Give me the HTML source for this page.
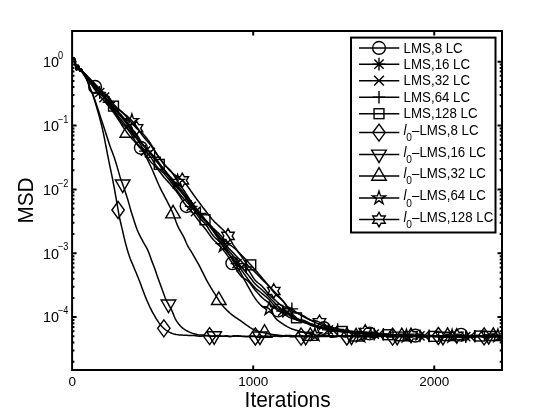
<!DOCTYPE html><html><head><meta charset="utf-8"><style>html,body{margin:0;padding:0;background:#fff;}svg{display:block;}text{font-family:"Liberation Sans",Arial,sans-serif;fill:#000;}</style></head><body>
<svg width="554" height="417" viewBox="0 0 554 417">
<rect width="554" height="417" fill="#fff"/>
<defs><clipPath id="c"><rect x="72.1" y="31" width="429.9" height="339"/></clipPath></defs>
<g clip-path="url(#c)" fill="none" stroke="#000" stroke-width="1.5" stroke-linejoin="round">
<polyline points="72.15,61 72.4,60.31 72.65,59.62 72.9,59.06 73.15,58.7 73.4,58.34 73.65,58.23 73.9,58.28 74.15,58.33 74.4,58.74 74.65,59.69 74.9,60.91 75.15,62.52 75.4,64.38 75.65,66.23 75.9,67.78 76.15,69.1 76.4,69.5 76.65,69.66 76.9,68.95 77.15,68.24 77.4,67.53 77.65,66.82 77.9,66.47 78.15,66.63 78.4,66.8 78.65,67.55 78.9,68.3 79.15,69.05 79.4,69.8 79.65,70.43 79.9,70.57 80.15,70.71 80.4,70.71 80.65,70.5 80.9,70.29 81.15,70.33 81.4,70.54 81.65,70.76 81.9,71.2 82.15,71.56 83.15,72.65 84.15,73.73 85.15,74.9 86.15,76.08 87.15,77.32 88.15,78.55 89.15,79.82 90.15,81.07 91.15,82.31 92.15,83.54 93.15,84.75 94.15,85.92 95.15,87 96.15,88.06 97.15,89.11 98.15,90.16 99.15,91.26 100.15,92.41 101.15,93.67 102.15,95.06 103.15,96.55 104.15,98.1 105.15,99.67 106.15,101.22 107.15,102.71 108.15,104.11 109.15,105.41 110.15,106.63 111.15,107.8 112.15,108.97 113.15,110.15 114.15,111.39 115.15,112.72 116.15,114.15 117.15,115.66 118.15,117.22 119.15,118.79 120.15,120.33 121.15,121.8 122.15,123.17 123.15,124.41 124.15,125.53 125.15,126.59 126.15,127.65 127.15,128.74 128.15,129.91 129.15,131.21 130.15,132.66 131.15,134.22 132.15,135.83 133.15,137.46 134.15,139.07 135.15,140.62 136.15,142.07 137.15,143.4 138.15,144.65 139.15,145.85 140.15,147.02 141.15,148.2 142.15,149.43 143.15,150.75 144.15,152.17 145.15,153.66 146.15,155.2 147.15,156.73 148.15,158.22 149.15,159.64 150.15,160.96 151.15,162.15 152.15,163.25 153.15,164.3 154.15,165.32 155.15,166.34 156.15,167.4 157.15,168.54 158.15,169.75 159.15,171.02 160.15,172.32 161.15,173.64 162.15,174.94 163.15,176.2 164.15,177.42 165.15,178.58 166.15,179.7 167.15,180.79 168.15,181.88 169.15,182.97 170.15,184.09 171.15,185.23 172.15,186.4 173.15,187.55 174.15,188.73 175.15,189.92 176.15,191.15 177.15,192.43 178.15,193.77 179.15,195.21 180.15,196.75 181.15,198.34 182.15,199.93 183.15,201.49 184.15,202.97 185.15,204.33 186.15,205.55 187.15,206.68 188.15,207.74 189.15,208.77 190.15,209.81 191.15,210.91 192.15,212.08 193.15,213.33 194.15,214.64 195.15,215.98 196.15,217.34 197.15,218.7 198.15,220.04 199.15,221.34 200.15,222.6 201.15,223.85 202.15,225.08 203.15,226.31 204.15,227.55 205.15,228.8 206.15,230.08 207.15,231.42 208.15,232.8 209.15,234.19 210.15,235.58 211.15,236.93 212.15,238.21 213.15,239.4 214.15,240.48 215.15,241.45 216.15,242.37 217.15,243.26 218.15,244.18 219.15,245.16 220.15,246.23 221.15,247.38 222.15,248.58 223.15,249.82 224.15,251.1 225.15,252.42 226.15,253.78 227.15,255.17 228.15,256.63 229.15,258.16 230.15,259.73 231.15,261.32 232.15,262.91 233.15,264.48 234.15,266.02 235.15,267.57 236.15,269.16 237.15,270.74 238.15,272.29 239.15,273.75 240.15,275.08 241.15,276.25 242.15,277.19 243.15,277.92 244.15,278.52 245.15,279.07 246.15,279.65 247.15,280.36 248.15,281.24 249.15,282.32 250.15,283.54 251.15,284.82 252.15,286.17 253.15,287.51 254.15,288.79 255.15,290.02 256.15,291.17 257.15,292.33 258.15,293.47 259.15,294.56 260.15,295.63 261.15,296.64 262.15,297.6 263.15,298.48 264.15,299.31 265.15,300.1 266.15,300.88 267.15,301.66 268.15,302.46 269.15,303.31 270.15,304.18 271.15,305.06 272.15,305.96 273.15,306.81 274.15,307.65 275.15,308.45 276.15,309.19 277.15,309.91 278.15,310.52 279.15,311.12 280.15,311.72 281.15,312.26 282.15,312.84 283.15,313.47 284.15,314.1 285.15,314.77 286.15,315.46 287.15,316.09 288.15,316.69 289.15,317.24 290.15,317.69 291.15,318.07 292.15,318.41 293.15,318.71 294.15,318.99 295.15,319.29 296.15,319.6 297.15,319.94 298.15,320.31 299.15,320.7 300.15,321.1 301.15,321.48 302.15,321.86 303.15,322.21 304.15,322.54 305.15,322.83 306.15,323.1 307.15,323.38 308.15,323.64 309.15,323.92 310.15,324.23 311.15,324.56 312.15,324.9 313.15,325.25 314.15,325.6 315.15,325.95 316.15,326.25 317.15,326.54 318.15,326.82 319.15,327.09 320.15,327.32 321.15,327.55 322.15,327.76 323.15,327.97 324.15,328.15 325.15,328.32 326.15,328.51 327.15,328.69 328.15,328.86 329.15,329.01 330.15,329.16 331.15,329.31 332.15,329.46 333.15,329.59 334.15,329.71 335.15,329.84 336.15,329.96 337.15,330.08 338.15,330.19 339.15,330.3 340.15,330.41 341.15,330.53 342.15,330.64 343.15,330.74 344.15,330.85 345.15,330.96 346.15,331.06 347.15,331.18 348.15,331.29 349.15,331.4 350.15,331.52 351.15,331.64 352.15,331.76 353.15,331.88 354.15,331.99 355.15,332.11 356.15,332.23 357.15,332.35 358.15,332.46 359.15,332.58 360.15,332.68 361.15,332.78 362.15,332.87 363.15,332.97 364.15,333.07 365.15,333.16 366.15,333.24 367.15,333.32 368.15,333.4 369.15,333.48 370.15,333.56 371.15,333.64 372.15,333.72 373.15,333.8 374.15,333.87 375.15,333.94 376.15,334.01 377.15,334.08 378.15,334.15 379.15,334.21 380.15,334.25 381.15,334.31 382.15,334.38 383.15,334.46 384.15,334.53 385.15,334.59 386.15,334.66 387.15,334.72 388.15,334.76 389.15,334.79 390.15,334.77 391.15,334.76 392.15,334.85 393.15,334.94 394.15,335.02 395.15,335.07 396.15,335.11 397.15,335.17 398.15,335.22 399.15,335.22 400.15,335.16 401.15,334.96 402.15,334.88 403.15,334.94 404.15,335.22 405.15,335.47 406.15,335.52 407.15,335.54 408.15,335.36 409.15,335.17 410.15,335.08 411.15,335.07 412.15,335.13 413.15,335.25 414.15,335.38 415.15,335.6 416.15,335.77 417.15,335.87 418.15,335.94 419.15,335.95 420.15,335.91 421.15,335.82 422.15,335.84 423.15,335.89 424.15,336.04 425.15,336.14 426.15,336.13 427.15,336.1 428.15,336.06 429.15,336.03 430.15,336.03 431.15,336.06 432.15,336.09 433.15,336.25 434.15,336.37 435.15,336.35 436.15,336.3 437.15,336.17 438.15,336.2 439.15,336.34 440.15,336.73 441.15,337.23 442.15,337.29 443.15,337.26 444.15,336.83 445.15,336.5 446.15,336.3 447.15,336.25 448.15,336.28 449.15,335.97 450.15,335.59 451.15,335.51 452.15,335.53 453.15,335.95 454.15,336.29 455.15,336.51 456.15,336.57 457.15,336.52 458.15,335.99 459.15,335.34 460.15,334.97 461.15,334.79 462.15,335.39 463.15,336 464.15,336.61 465.15,336.99 466.15,337.22 467.15,337.17 468.15,337.04 469.15,336.87 470.15,336.72 471.15,336.63 472.15,336.51 473.15,336.35 474.15,336.16 475.15,335.95 476.15,335.85 477.15,335.77 478.15,335.91 479.15,336.01 480.15,335.95 481.15,335.95 482.15,336.02 483.15,336.29 484.15,336.69 485.15,336.73 486.15,336.68 487.15,336.59 488.15,336.57 489.15,336.78 490.15,336.86 491.15,336.76 492.15,336.75 493.15,336.8 494.15,336.91 495.15,337.04 496.15,336.85 497.15,336.71 498.15,336.83 499.15,337.02 500.15,337.34 501.15,337.45 502,337.43"/>
<polyline points="72.15,61 72.4,60.31 72.65,59.62 72.9,59.06 73.15,58.7 73.4,58.34 73.65,58.2 73.9,58.2 74.15,58.2 74.4,58.56 74.65,59.46 74.9,60.63 75.15,62.19 75.4,64 75.65,65.8 75.9,67.3 76.15,68.57 76.4,68.92 76.65,69.06 76.9,68.35 77.15,67.64 77.4,66.93 77.65,66.22 77.9,65.87 78.15,66.03 78.4,66.2 78.65,66.95 78.9,67.7 79.15,68.45 79.4,69.2 79.65,69.83 79.9,69.97 80.15,70.11 80.4,70.11 80.65,69.9 80.9,69.69 81.15,69.73 81.4,69.94 81.65,70.16 81.9,70.6 82.15,70.98 83.15,72.16 84.15,73.34 85.15,74.49 86.15,75.66 87.15,76.89 88.15,78.2 89.15,79.63 90.15,81.17 91.15,82.8 92.15,84.47 93.15,86.1 94.15,87.57 95.15,88.67 96.15,89.61 97.15,90.45 98.15,91.24 99.15,92.03 100.15,92.88 101.15,93.84 102.15,94.87 103.15,95.92 104.15,97 105.15,98.13 106.15,99.29 107.15,100.52 108.15,101.81 109.15,103.19 110.15,104.67 111.15,106.2 112.15,107.76 113.15,109.29 114.15,110.78 115.15,112.18 116.15,113.49 117.15,114.75 118.15,115.97 119.15,117.17 120.15,118.37 121.15,119.6 122.15,120.86 123.15,122.17 124.15,123.52 125.15,124.88 126.15,126.25 127.15,127.59 128.15,128.89 129.15,130.14 130.15,131.3 131.15,132.39 132.15,133.44 133.15,134.5 134.15,135.59 135.15,136.75 136.15,138.02 137.15,139.41 138.15,140.92 139.15,142.48 140.15,144.06 141.15,145.61 142.15,147.09 143.15,148.46 144.15,149.69 145.15,150.82 146.15,151.89 147.15,152.94 148.15,154.03 149.15,155.18 150.15,156.46 151.15,157.88 152.15,159.41 153.15,161 154.15,162.61 155.15,164.16 156.15,165.62 157.15,166.93 158.15,168.07 159.15,169.09 160.15,170.03 161.15,170.93 162.15,171.84 163.15,172.8 164.15,173.85 165.15,174.97 166.15,176.12 167.15,177.3 168.15,178.51 169.15,179.75 170.15,181.02 171.15,182.31 172.15,183.66 173.15,185.07 174.15,186.5 175.15,187.95 176.15,189.37 177.15,190.75 178.15,192.07 179.15,193.33 180.15,194.55 181.15,195.74 182.15,196.9 183.15,198.04 184.15,199.16 185.15,200.26 186.15,201.31 187.15,202.29 188.15,203.25 189.15,204.22 190.15,205.23 191.15,206.32 192.15,207.52 193.15,208.86 194.15,210.32 195.15,211.85 196.15,213.4 197.15,214.92 198.15,216.35 199.15,217.66 200.15,218.82 201.15,219.85 202.15,220.83 203.15,221.78 204.15,222.78 205.15,223.86 206.15,225.08 207.15,226.46 208.15,227.98 209.15,229.56 210.15,231.17 211.15,232.73 212.15,234.2 213.15,235.51 214.15,236.66 215.15,237.68 216.15,238.62 217.15,239.53 218.15,240.47 219.15,241.48 220.15,242.61 221.15,243.88 222.15,245.25 223.15,246.68 224.15,248.12 225.15,249.54 226.15,250.91 227.15,252.18 228.15,253.34 229.15,254.43 230.15,255.47 231.15,256.49 232.15,257.54 233.15,258.65 234.15,259.85 235.15,261.13 236.15,262.48 237.15,263.88 238.15,265.31 239.15,266.75 240.15,268.19 241.15,269.59 242.15,271 243.15,272.42 244.15,273.85 245.15,275.28 246.15,276.68 247.15,278.06 248.15,279.39 249.15,280.7 250.15,281.99 251.15,283.22 252.15,284.42 253.15,285.59 254.15,286.67 255.15,287.71 256.15,288.7 257.15,289.57 258.15,290.38 259.15,291.19 260.15,291.99 261.15,292.76 262.15,293.58 263.15,294.42 264.15,295.25 265.15,296.06 266.15,296.9 267.15,297.78 268.15,298.7 269.15,299.66 270.15,300.74 271.15,301.92 272.15,303.14 273.15,304.34 274.15,305.5 275.15,306.57 276.15,307.47 277.15,308.2 278.15,308.83 279.15,309.39 280.15,309.86 281.15,310.32 282.15,310.83 283.15,311.41 284.15,311.98 285.15,312.57 286.15,313.22 287.15,313.86 288.15,314.48 289.15,315.13 290.15,315.8 291.15,316.47 292.15,317.16 293.15,317.87 294.15,318.55 295.15,319.14 296.15,319.67 297.15,320.12 298.15,320.46 299.15,320.73 300.15,320.97 301.15,321.23 302.15,321.51 303.15,321.85 304.15,322.25 305.15,322.71 306.15,323.2 307.15,323.69 308.15,324.18 309.15,324.64 310.15,325.05 311.15,325.43 312.15,325.79 313.15,326.12 314.15,326.42 315.15,326.72 316.15,327.02 317.15,327.28 318.15,327.54 319.15,327.8 320.15,328.06 321.15,328.3 322.15,328.54 323.15,328.78 324.15,329.03 325.15,329.24 326.15,329.45 327.15,329.65 328.15,329.86 329.15,330.05 330.15,330.22 331.15,330.38 332.15,330.55 333.15,330.71 334.15,330.85 335.15,330.98 336.15,331.11 337.15,331.24 338.15,331.37 339.15,331.48 340.15,331.59 341.15,331.69 342.15,331.8 343.15,331.9 344.15,331.99 345.15,332.08 346.15,332.17 347.15,332.26 348.15,332.35 349.15,332.43 350.15,332.51 351.15,332.59 352.15,332.65 353.15,332.72 354.15,332.82 355.15,332.9 356.15,332.99 357.15,333.07 358.15,333.14 359.15,333.22 360.15,333.29 361.15,333.37 362.15,333.45 363.15,333.53 364.15,333.61 365.15,333.68 366.15,333.74 367.15,333.78 368.15,333.81 369.15,333.84 370.15,333.94 371.15,334.02 372.15,334.07 373.15,334.13 374.15,334.19 375.15,334.28 376.15,334.38 377.15,334.45 378.15,334.52 379.15,334.56 380.15,334.6 381.15,334.65 382.15,334.7 383.15,334.76 384.15,334.8 385.15,334.83 386.15,334.87 387.15,334.9 388.15,335 389.15,335.08 390.15,335.14 391.15,335.2 392.15,335.24 393.15,335.27 394.15,335.28 395.15,335.25 396.15,335.18 397.15,335.19 398.15,335.23 399.15,335.38 400.15,335.52 401.15,335.64 402.15,335.73 403.15,335.8 404.15,335.87 405.15,335.93 406.15,335.94 407.15,335.93 408.15,335.78 409.15,335.57 410.15,335.45 411.15,335.48 412.15,335.62 413.15,335.67 414.15,335.69 415.15,335.59 416.15,335.51 417.15,335.51 418.15,335.59 419.15,335.75 420.15,335.86 421.15,335.93 422.15,335.95 423.15,335.96 424.15,335.89 425.15,335.78 426.15,335.43 427.15,335.11 428.15,334.89 429.15,334.96 430.15,335.23 431.15,335.41 432.15,335.56 433.15,335.72 434.15,335.89 435.15,336.1 436.15,336.28 437.15,336.4 438.15,336.53 439.15,336.65 440.15,336.83 441.15,336.94 442.15,336.87 443.15,336.83 444.15,336.89 445.15,336.84 446.15,336.61 447.15,336.39 448.15,336.19 449.15,336.33 450.15,336.56 451.15,336.46 452.15,336.34 453.15,336.12 454.15,336.09 455.15,336.35 456.15,336.62 457.15,336.89 458.15,337.07 459.15,337.21 460.15,337.14 461.15,336.99 462.15,336.53 463.15,336.2 464.15,336.05 465.15,336.36 466.15,336.98 467.15,337.35 468.15,337.66 469.15,337.39 470.15,337.16 471.15,337.08 472.15,336.98 473.15,336.86 474.15,336.65 475.15,336.4 476.15,336.39 477.15,336.44 478.15,336.33 479.15,336.2 480.15,336.01 481.15,335.99 482.15,336.23 483.15,336.55 484.15,336.92 485.15,337.21 486.15,337.48 487.15,337.1 488.15,336.62 489.15,335.76 490.15,335.17 491.15,334.98 492.15,335.17 493.15,335.63 494.15,335.82 495.15,335.94 496.15,335.65 497.15,335.4 498.15,335.33 499.15,335.35 500.15,335.49 501.15,335.49 502,335.42"/>
<polyline points="72.15,61 72.4,60.31 72.65,59.62 72.9,59.06 73.15,58.7 73.4,58.34 73.65,58.19 73.9,58.16 74.15,58.14 74.4,58.47 74.65,59.35 74.9,60.49 75.15,62.02 75.4,63.81 75.65,65.59 75.9,67.06 76.15,68.31 76.4,68.63 76.65,68.76 76.9,68.05 77.15,67.34 77.4,66.63 77.65,65.92 77.9,65.57 78.15,65.73 78.4,65.9 78.65,66.65 78.9,67.4 79.15,68.15 79.4,68.9 79.65,69.53 79.9,69.67 80.15,69.81 80.4,69.81 80.65,69.6 80.9,69.39 81.15,69.43 81.4,69.64 81.65,69.86 81.9,70.3 82.15,70.97 83.15,72.11 84.15,73.26 85.15,74.5 86.15,75.75 87.15,76.99 88.15,78.24 89.15,79.47 90.15,80.68 91.15,81.89 92.15,83.09 93.15,84.31 94.15,85.55 95.15,86.8 96.15,88.1 97.15,89.44 98.15,90.76 99.15,92.05 100.15,93.29 101.15,94.43 102.15,95.46 103.15,96.39 104.15,97.26 105.15,98.12 106.15,99.01 107.15,99.97 108.15,101.01 109.15,102.16 110.15,103.38 111.15,104.64 112.15,105.94 113.15,107.24 114.15,108.52 115.15,109.76 116.15,110.96 117.15,112.15 118.15,113.33 119.15,114.51 120.15,115.69 121.15,116.89 122.15,118.1 123.15,119.31 124.15,120.51 125.15,121.72 126.15,122.95 127.15,124.21 128.15,125.51 129.15,126.87 130.15,128.32 131.15,129.84 132.15,131.42 133.15,132.99 134.15,134.53 135.15,136 136.15,137.37 137.15,138.63 138.15,139.81 139.15,140.93 140.15,142.02 141.15,143.08 142.15,144.16 143.15,145.24 144.15,146.33 145.15,147.39 146.15,148.44 147.15,149.5 148.15,150.58 149.15,151.68 150.15,152.82 151.15,153.99 152.15,155.18 153.15,156.39 154.15,157.63 155.15,158.9 156.15,160.21 157.15,161.57 158.15,163.02 159.15,164.56 160.15,166.15 161.15,167.74 162.15,169.27 163.15,170.71 164.15,171.98 165.15,173.08 166.15,174.03 167.15,174.9 168.15,175.72 169.15,176.58 170.15,177.51 171.15,178.57 172.15,179.76 173.15,181.02 174.15,182.34 175.15,183.7 176.15,185.07 177.15,186.44 178.15,187.8 179.15,189.15 180.15,190.51 181.15,191.89 182.15,193.26 183.15,194.63 184.15,196 185.15,197.35 186.15,198.7 187.15,200.05 188.15,201.4 189.15,202.73 190.15,204.06 191.15,205.37 192.15,206.66 193.15,207.95 194.15,209.23 195.15,210.5 196.15,211.75 197.15,212.97 198.15,214.15 199.15,215.28 200.15,216.35 201.15,217.35 202.15,218.32 203.15,219.27 204.15,220.22 205.15,221.21 206.15,222.24 207.15,223.32 208.15,224.41 209.15,225.53 210.15,226.66 211.15,227.81 212.15,228.98 213.15,230.16 214.15,231.36 215.15,232.56 216.15,233.79 217.15,235.03 218.15,236.3 219.15,237.6 220.15,238.92 221.15,240.3 222.15,241.73 223.15,243.19 224.15,244.66 225.15,246.1 226.15,247.51 227.15,248.84 228.15,250.1 229.15,251.3 230.15,252.46 231.15,253.61 232.15,254.77 233.15,255.96 234.15,257.21 235.15,258.52 236.15,259.87 237.15,261.25 238.15,262.63 239.15,264 240.15,265.34 241.15,266.62 242.15,267.84 243.15,269.03 244.15,270.2 245.15,271.35 246.15,272.5 247.15,273.67 248.15,274.9 249.15,276.17 250.15,277.49 251.15,278.82 252.15,280.14 253.15,281.43 254.15,282.66 255.15,283.81 256.15,284.83 257.15,285.77 258.15,286.65 259.15,287.46 260.15,288.28 261.15,289.15 262.15,290.05 263.15,291 264.15,292 265.15,293.02 266.15,294.02 267.15,295.04 268.15,296.08 269.15,297.11 270.15,298.13 271.15,299.2 272.15,300.28 273.15,301.35 274.15,302.38 275.15,303.39 276.15,304.37 277.15,305.29 278.15,306.2 279.15,307.09 280.15,307.96 281.15,308.75 282.15,309.5 283.15,310.21 284.15,310.83 285.15,311.32 286.15,311.78 287.15,312.24 288.15,312.71 289.15,313.24 290.15,313.89 291.15,314.69 292.15,315.52 293.15,316.38 294.15,317.21 295.15,317.96 296.15,318.55 297.15,319 298.15,319.3 299.15,319.49 300.15,319.61 301.15,319.74 302.15,319.93 303.15,320.18 304.15,320.53 305.15,320.98 306.15,321.48 307.15,322.01 308.15,322.53 309.15,323.03 310.15,323.49 311.15,323.91 312.15,324.28 313.15,324.63 314.15,324.98 315.15,325.31 316.15,325.66 317.15,326.02 318.15,326.38 319.15,326.73 320.15,327.09 321.15,327.44 322.15,327.75 323.15,328.05 324.15,328.34 325.15,328.62 326.15,328.87 327.15,329.12 328.15,329.37 329.15,329.62 330.15,329.82 331.15,330.03 332.15,330.23 333.15,330.44 334.15,330.61 335.15,330.77 336.15,330.93 337.15,331.09 338.15,331.24 339.15,331.37 340.15,331.49 341.15,331.6 342.15,331.72 343.15,331.84 344.15,331.94 345.15,332.03 346.15,332.12 347.15,332.22 348.15,332.31 349.15,332.4 350.15,332.47 351.15,332.55 352.15,332.63 353.15,332.71 354.15,332.78 355.15,332.85 356.15,332.92 357.15,333 358.15,333.08 359.15,333.15 360.15,333.22 361.15,333.29 362.15,333.36 363.15,333.44 364.15,333.51 365.15,333.59 366.15,333.66 367.15,333.72 368.15,333.8 369.15,333.87 370.15,333.94 371.15,334.01 372.15,334.05 373.15,334.1 374.15,334.2 375.15,334.29 376.15,334.38 377.15,334.44 378.15,334.48 379.15,334.5 380.15,334.52 381.15,334.58 382.15,334.64 383.15,334.71 384.15,334.79 385.15,334.88 386.15,334.95 387.15,335.03 388.15,335.05 389.15,335.05 390.15,335.02 391.15,335.01 392.15,335.08 393.15,335.17 394.15,335.26 395.15,335.29 396.15,335.29 397.15,335.37 398.15,335.45 399.15,335.51 400.15,335.57 401.15,335.64 402.15,335.72 403.15,335.8 404.15,335.85 405.15,335.88 406.15,335.85 407.15,335.76 408.15,335.38 409.15,334.97 410.15,334.83 411.15,335.15 412.15,335.65 413.15,335.81 414.15,335.91 415.15,335.82 416.15,335.69 417.15,335.52 418.15,335.32 419.15,335.1 420.15,335.03 421.15,335.07 422.15,335.19 423.15,335.33 424.15,335.56 425.15,335.77 426.15,335.94 427.15,336.04 428.15,336.04 429.15,336 430.15,335.92 431.15,335.81 432.15,335.68 433.15,335.69 434.15,335.73 435.15,335.85 436.15,335.99 437.15,336.15 438.15,336.27 439.15,336.37 440.15,336.53 441.15,336.65 442.15,336.72 443.15,336.76 444.15,336.63 445.15,336.51 446.15,336.43 447.15,336.46 448.15,336.57 449.15,336.76 450.15,336.96 451.15,336.92 452.15,336.86 453.15,336.77 454.15,336.7 455.15,336.64 456.15,336.38 457.15,335.99 458.15,335.56 459.15,335.11 460.15,335.23 461.15,335.43 462.15,335.93 463.15,336.2 464.15,336.14 465.15,336.01 466.15,335.85 467.15,336.18 468.15,336.63 469.15,336.76 470.15,336.76 471.15,336.28 472.15,335.97 473.15,335.92 474.15,336.03 475.15,336.25 476.15,336.17 477.15,336.02 478.15,335.69 479.15,335.48 480.15,335.72 481.15,336.12 482.15,336.76 483.15,337.24 484.15,337.61 485.15,337.5 486.15,337.27 487.15,336.72 488.15,336.26 489.15,336.15 490.15,336.05 491.15,335.95 492.15,335.68 493.15,335.3 494.15,335.31 495.15,335.42 496.15,335.96 497.15,336.4 498.15,336.51 499.15,336.58 500.15,336.59 501.15,336.79 502,337.06"/>
<polyline points="72.15,61 72.4,60.31 72.65,59.62 72.9,59.06 73.15,58.7 73.4,58.34 73.65,58.18 73.9,58.13 74.15,58.09 74.4,58.41 74.65,59.27 74.9,60.39 75.15,61.91 75.4,63.68 75.65,65.44 75.9,66.9 76.15,68.13 76.4,68.44 76.65,68.56 76.9,67.85 77.15,67.14 77.4,66.43 77.65,65.72 77.9,65.37 78.15,65.53 78.4,65.7 78.65,66.45 78.9,67.2 79.15,67.95 79.4,68.7 79.65,69.33 79.9,69.47 80.15,69.61 80.4,69.61 80.65,69.4 80.9,69.19 81.15,69.23 81.4,69.44 81.65,69.66 81.9,70.1 82.15,70.97 83.15,72.1 84.15,73.24 85.15,74.38 86.15,75.5 87.15,76.6 88.15,77.7 89.15,78.82 90.15,79.95 91.15,81.09 92.15,82.22 93.15,83.33 94.15,84.39 95.15,85.41 96.15,86.36 97.15,87.29 98.15,88.23 99.15,89.22 100.15,90.28 101.15,91.44 102.15,92.71 103.15,94.08 104.15,95.52 105.15,96.99 106.15,98.46 107.15,99.88 108.15,101.23 109.15,102.53 110.15,103.81 111.15,105.06 112.15,106.29 113.15,107.51 114.15,108.7 115.15,109.87 116.15,111.01 117.15,112.12 118.15,113.2 119.15,114.28 120.15,115.36 121.15,116.47 122.15,117.62 123.15,118.81 124.15,120.05 125.15,121.31 126.15,122.57 127.15,123.82 128.15,125.03 129.15,126.19 130.15,127.27 131.15,128.26 132.15,129.23 133.15,130.21 134.15,131.24 135.15,132.37 136.15,133.64 137.15,135.1 138.15,136.71 139.15,138.41 140.15,140.13 141.15,141.82 142.15,143.4 143.15,144.81 144.15,146.06 145.15,147.2 146.15,148.25 147.15,149.26 148.15,150.26 149.15,151.27 150.15,152.34 151.15,153.43 152.15,154.52 153.15,155.61 154.15,156.72 155.15,157.85 156.15,159.02 157.15,160.23 158.15,161.51 159.15,162.85 160.15,164.22 161.15,165.6 162.15,166.97 163.15,168.31 164.15,169.6 165.15,170.83 166.15,172.03 167.15,173.2 168.15,174.36 169.15,175.51 170.15,176.67 171.15,177.84 172.15,179.02 173.15,180.21 174.15,181.39 175.15,182.57 176.15,183.75 177.15,184.93 178.15,186.11 179.15,187.28 180.15,188.45 181.15,189.61 182.15,190.77 183.15,191.95 184.15,193.13 185.15,194.34 186.15,195.56 187.15,196.8 188.15,198.05 189.15,199.3 190.15,200.56 191.15,201.82 192.15,203.08 193.15,204.34 194.15,205.6 195.15,206.87 196.15,208.13 197.15,209.4 198.15,210.67 199.15,211.93 200.15,213.2 201.15,214.46 202.15,215.73 203.15,217 204.15,218.27 205.15,219.52 206.15,220.77 207.15,222.01 208.15,223.24 209.15,224.47 210.15,225.69 211.15,226.9 212.15,228.11 213.15,229.3 214.15,230.47 215.15,231.62 216.15,232.75 217.15,233.89 218.15,235.04 219.15,236.21 220.15,237.42 221.15,238.68 222.15,239.98 223.15,241.3 224.15,242.63 225.15,243.93 226.15,245.19 227.15,246.4 228.15,247.54 229.15,248.64 230.15,249.72 231.15,250.77 232.15,251.81 233.15,252.84 234.15,253.88 235.15,254.91 236.15,255.91 237.15,256.91 238.15,257.91 239.15,258.93 240.15,259.98 241.15,261.07 242.15,262.2 243.15,263.34 244.15,264.51 245.15,265.72 246.15,266.96 247.15,268.25 248.15,269.61 249.15,271.07 250.15,272.64 251.15,274.27 252.15,275.9 253.15,277.48 254.15,278.94 255.15,280.23 256.15,281.3 257.15,282.2 258.15,282.99 259.15,283.74 260.15,284.51 261.15,285.34 262.15,286.32 263.15,287.45 264.15,288.58 265.15,289.79 266.15,291.03 267.15,292.21 268.15,293.35 269.15,294.45 270.15,295.51 271.15,296.47 272.15,297.43 273.15,298.39 274.15,299.31 275.15,300.17 276.15,301.04 277.15,301.94 278.15,302.83 279.15,303.7 280.15,304.54 281.15,305.32 282.15,305.97 283.15,306.48 284.15,306.83 285.15,307.02 286.15,307.1 287.15,307.16 288.15,307.27 289.15,307.47 290.15,307.84 291.15,308.38 292.15,309.03 293.15,309.76 294.15,310.53 295.15,311.32 296.15,312.07 297.15,312.77 298.15,313.43 299.15,314.07 300.15,314.69 301.15,315.27 302.15,315.85 303.15,316.43 304.15,316.98 305.15,317.51 306.15,318.03 307.15,318.55 308.15,319.04 309.15,319.52 310.15,320.02 311.15,320.53 312.15,321 313.15,321.48 314.15,321.96 315.15,322.44 316.15,322.88 317.15,323.32 318.15,323.75 319.15,324.16 320.15,324.55 321.15,324.94 322.15,325.33 323.15,325.67 324.15,326 325.15,326.33 326.15,326.63 327.15,326.91 328.15,327.18 329.15,327.45 330.15,327.71 331.15,327.96 332.15,328.2 333.15,328.45 334.15,328.68 335.15,328.89 336.15,329.11 337.15,329.32 338.15,329.53 339.15,329.7 340.15,329.87 341.15,330.04 342.15,330.22 343.15,330.38 344.15,330.52 345.15,330.66 346.15,330.79 347.15,330.93 348.15,331.07 349.15,331.18 350.15,331.3 351.15,331.41 352.15,331.52 353.15,331.64 354.15,331.74 355.15,331.85 356.15,331.95 357.15,332.06 358.15,332.16 359.15,332.26 360.15,332.36 361.15,332.45 362.15,332.55 363.15,332.64 364.15,332.74 365.15,332.83 366.15,332.92 367.15,333.01 368.15,333.1 369.15,333.2 370.15,333.3 371.15,333.39 372.15,333.49 373.15,333.58 374.15,333.68 375.15,333.77 376.15,333.85 377.15,333.93 378.15,334.02 379.15,334.09 380.15,334.17 381.15,334.2 382.15,334.24 383.15,334.29 384.15,334.34 385.15,334.39 386.15,334.4 387.15,334.38 388.15,334.55 389.15,334.69 390.15,334.83 391.15,334.92 392.15,334.97 393.15,335.02 394.15,335.08 395.15,335.13 396.15,335.17 397.15,335.22 398.15,335.26 399.15,335.26 400.15,335.25 401.15,335.23 402.15,335.26 403.15,335.35 404.15,335.4 405.15,335.45 406.15,335.47 407.15,335.48 408.15,335.47 409.15,335.44 410.15,335.37 411.15,335.41 412.15,335.53 413.15,335.64 414.15,335.74 415.15,335.58 416.15,335.39 417.15,335.28 418.15,335.33 419.15,335.58 420.15,335.73 421.15,335.83 422.15,335.79 423.15,335.7 424.15,335.54 425.15,335.43 426.15,335.55 427.15,335.68 428.15,335.82 429.15,335.85 430.15,335.81 431.15,335.92 432.15,336.07 433.15,336.19 434.15,336.27 435.15,336.1 436.15,335.99 437.15,336 438.15,336.21 439.15,336.55 440.15,336.77 441.15,336.89 442.15,336.58 443.15,336.29 444.15,336.06 445.15,335.87 446.15,335.73 447.15,335.77 448.15,335.95 449.15,336.05 450.15,336.12 451.15,336.03 452.15,336.01 453.15,336.28 454.15,336.56 455.15,336.88 456.15,336.94 457.15,336.81 458.15,336.71 459.15,336.62 460.15,336.85 461.15,337.05 462.15,337.17 463.15,337.14 464.15,336.89 465.15,336.41 466.15,335.8 467.15,335.55 468.15,335.4 469.15,335.88 470.15,336.28 471.15,336.38 472.15,336.4 473.15,336.29 474.15,336.28 475.15,336.33 476.15,336.21 477.15,336.04 478.15,336.2 479.15,336.37 480.15,336.54 481.15,336.54 482.15,336.28 483.15,336.3 484.15,336.53 485.15,336.97 486.15,337.46 487.15,337.48 488.15,337.44 489.15,337.16 490.15,336.86 491.15,336.53 492.15,336.25 493.15,336.03 494.15,335.8 495.15,335.57 496.15,335.32 497.15,335.16 498.15,335.37 499.15,335.63 500.15,335.98 501.15,336.15 502,336.2"/>
<polyline points="72.15,61 72.4,60.31 72.65,59.62 72.9,59.06 73.15,58.7 73.4,58.34 73.65,58.21 73.9,58.23 74.15,58.24 74.4,58.62 74.65,59.54 74.9,60.72 75.15,62.3 75.4,64.13 75.65,65.94 75.9,67.46 76.15,68.75 76.4,69.11 76.65,69.26 76.9,68.55 77.15,67.84 77.4,67.13 77.65,66.42 77.9,66.07 78.15,66.23 78.4,66.4 78.65,67.15 78.9,67.9 79.15,68.65 79.4,69.4 79.65,70.03 79.9,70.17 80.15,70.31 80.4,70.31 80.65,70.1 80.9,69.89 81.15,69.93 81.4,70.14 81.65,70.36 81.9,70.8 82.15,70.96 83.15,72 84.15,73.05 85.15,74.09 86.15,75.07 87.15,76.02 88.15,76.99 89.15,77.99 90.15,79.03 91.15,80.13 92.15,81.24 93.15,82.34 94.15,83.4 95.15,84.41 96.15,85.41 97.15,86.39 98.15,87.36 99.15,88.33 100.15,89.33 101.15,90.34 102.15,91.41 103.15,92.47 104.15,93.54 105.15,94.63 106.15,95.75 107.15,96.92 108.15,98.19 109.15,99.58 110.15,101.06 111.15,102.59 112.15,104.13 113.15,105.62 114.15,107.04 115.15,108.39 116.15,109.6 117.15,110.7 118.15,111.73 119.15,112.73 120.15,113.72 121.15,114.78 122.15,115.92 123.15,117.11 124.15,118.32 125.15,119.55 126.15,120.8 127.15,122.07 128.15,123.38 129.15,124.73 130.15,126.14 131.15,127.59 132.15,129.07 133.15,130.56 134.15,132.05 135.15,133.53 136.15,134.99 137.15,136.43 138.15,137.88 139.15,139.32 140.15,140.74 141.15,142.14 142.15,143.51 143.15,144.84 144.15,146.11 145.15,147.32 146.15,148.51 147.15,149.68 148.15,150.85 149.15,152.04 150.15,153.27 151.15,154.55 152.15,155.85 153.15,157.16 154.15,158.46 155.15,159.74 156.15,160.98 157.15,162.17 158.15,163.26 159.15,164.28 160.15,165.26 161.15,166.24 162.15,167.27 163.15,168.38 164.15,169.62 165.15,171.01 166.15,172.52 167.15,174.11 168.15,175.74 169.15,177.35 170.15,178.89 171.15,180.33 172.15,181.67 173.15,182.97 174.15,184.22 175.15,185.43 176.15,186.6 177.15,187.75 178.15,188.88 179.15,189.95 180.15,190.97 181.15,191.96 182.15,192.94 183.15,193.93 184.15,194.96 185.15,196.07 186.15,197.26 187.15,198.49 188.15,199.77 189.15,201.08 190.15,202.42 191.15,203.72 192.15,205.02 193.15,206.37 194.15,207.77 195.15,209.19 196.15,210.6 197.15,211.98 198.15,213.26 199.15,214.41 200.15,215.45 201.15,216.39 202.15,217.27 203.15,218.13 204.15,219.01 205.15,219.93 206.15,220.85 207.15,221.83 208.15,222.85 209.15,223.9 210.15,224.97 211.15,226.04 212.15,227.11 213.15,228.17 214.15,229.12 215.15,230.06 216.15,230.99 217.15,231.93 218.15,232.89 219.15,233.89 220.15,234.93 221.15,236.05 222.15,237.21 223.15,238.39 224.15,239.57 225.15,240.71 226.15,241.79 227.15,242.75 228.15,243.6 229.15,244.35 230.15,245.03 231.15,245.68 232.15,246.35 233.15,247.07 234.15,247.88 235.15,248.77 236.15,249.71 237.15,250.69 238.15,251.7 239.15,252.74 240.15,253.77 241.15,254.78 242.15,255.79 243.15,256.8 244.15,257.81 245.15,258.85 246.15,259.93 247.15,261 248.15,262.07 249.15,263.14 250.15,264.22 251.15,265.29 252.15,266.45 253.15,267.61 254.15,268.74 255.15,269.86 256.15,270.96 257.15,272.1 258.15,273.26 259.15,274.4 260.15,275.54 261.15,276.7 262.15,277.92 263.15,279.13 264.15,280.33 265.15,281.56 266.15,282.8 267.15,284.04 268.15,285.28 269.15,286.52 270.15,287.78 271.15,289.07 272.15,290.31 273.15,291.52 274.15,292.7 275.15,293.83 276.15,294.88 277.15,295.83 278.15,296.68 279.15,297.5 280.15,298.34 281.15,299.24 282.15,300.23 283.15,301.37 284.15,302.65 285.15,304.06 286.15,305.54 287.15,307.01 288.15,308.48 289.15,309.92 290.15,311.23 291.15,312.44 292.15,313.64 293.15,314.79 294.15,315.74 295.15,316.65 296.15,317.53 297.15,318.33 298.15,318.96 299.15,319.57 300.15,320.16 301.15,320.68 302.15,321.1 303.15,321.52 304.15,321.93 305.15,322.27 306.15,322.55 307.15,322.82 308.15,323.11 309.15,323.37 310.15,323.63 311.15,323.92 312.15,324.24 313.15,324.56 314.15,324.87 315.15,325.18 316.15,325.48 317.15,325.78 318.15,326.07 319.15,326.34 320.15,326.6 321.15,326.88 322.15,327.15 323.15,327.43 324.15,327.71 325.15,327.98 326.15,328.25 327.15,328.51 328.15,328.76 329.15,329 330.15,329.23 331.15,329.47 332.15,329.68 333.15,329.88 334.15,330.09 335.15,330.29 336.15,330.46 337.15,330.64 338.15,330.82 339.15,330.98 340.15,331.13 341.15,331.28 342.15,331.43 343.15,331.56 344.15,331.68 345.15,331.79 346.15,331.91 347.15,332.01 348.15,332.09 349.15,332.17 350.15,332.25 351.15,332.32 352.15,332.39 353.15,332.46 354.15,332.52 355.15,332.58 356.15,332.63 357.15,332.68 358.15,332.73 359.15,332.78 360.15,332.84 361.15,332.89 362.15,332.94 363.15,332.99 364.15,333.04 365.15,333.09 366.15,333.14 367.15,333.2 368.15,333.25 369.15,333.31 370.15,333.36 371.15,333.42 372.15,333.47 373.15,333.54 374.15,333.64 375.15,333.74 376.15,333.84 377.15,333.91 378.15,333.96 379.15,333.97 380.15,333.97 381.15,334.1 382.15,334.24 383.15,334.38 384.15,334.47 385.15,334.54 386.15,334.6 387.15,334.66 388.15,334.76 389.15,334.84 390.15,334.87 391.15,334.87 392.15,334.81 393.15,334.86 394.15,335.01 395.15,335.17 396.15,335.29 397.15,335.37 398.15,335.43 399.15,335.46 400.15,335.47 401.15,335.39 402.15,335.27 403.15,335.12 404.15,335.06 405.15,335.03 406.15,335.16 407.15,335.28 408.15,335.38 409.15,335.44 410.15,335.43 411.15,335.37 412.15,335.26 413.15,335.22 414.15,335.19 415.15,335.17 416.15,335.13 417.15,335.03 418.15,334.97 419.15,334.96 420.15,334.97 421.15,335 422.15,335.15 423.15,335.33 424.15,335.61 425.15,335.8 426.15,335.77 427.15,335.7 428.15,335.58 429.15,335.65 430.15,335.85 431.15,336.07 432.15,336.27 433.15,336.34 434.15,336.38 435.15,336.26 436.15,336.1 437.15,335.9 438.15,335.81 439.15,335.81 440.15,336.04 441.15,336.31 442.15,336.49 443.15,336.61 444.15,336.51 445.15,336.43 446.15,336.38 447.15,336.42 448.15,336.53 449.15,336.55 450.15,336.55 451.15,336.36 452.15,336.18 453.15,336.03 454.15,335.93 455.15,335.92 456.15,335.82 457.15,335.66 458.15,335.64 459.15,335.65 460.15,336.24 461.15,336.81 462.15,337.35 463.15,337.6 464.15,337.42 465.15,337.07 466.15,336.6 467.15,336.49 468.15,336.46 469.15,336.82 470.15,337.16 471.15,337.42 472.15,337.5 473.15,337.31 474.15,337.01 475.15,336.64 476.15,336.43 477.15,336.26 478.15,336.18 479.15,336.08 480.15,335.94 481.15,335.82 482.15,335.75 483.15,335.62 484.15,335.44 485.15,335.15 486.15,334.83 487.15,335.06 488.15,335.33 489.15,335.73 490.15,336 491.15,336.05 492.15,336.05 493.15,336.02 494.15,335.86 495.15,335.68 496.15,335.79 497.15,335.91 498.15,336.06 499.15,336.04 500.15,335.79 501.15,335.62 502,335.53"/>
<polyline points="72.15,61 72.4,60.31 72.65,59.62 72.9,59.06 73.15,58.7 73.4,58.34 73.65,58.26 73.9,58.36 74.15,58.46 74.4,58.92 74.65,59.92 74.9,61.19 75.15,62.85 75.4,64.76 75.65,66.66 75.9,68.26 76.15,69.63 76.4,70.08 76.65,70.26 76.9,69.55 77.15,68.84 77.4,68.13 77.65,67.42 77.9,67.07 78.15,67.23 78.4,67.4 78.65,68.15 78.9,68.9 79.15,69.65 79.4,70.4 79.65,71.03 79.9,71.17 80.15,71.31 80.4,71.31 80.65,71.1 80.9,70.89 81.15,70.93 81.4,71.14 81.65,71.36 81.9,71.8 82.15,72.17 83.15,73.48 84.15,75.03 85.15,76.58 86.15,78.34 87.15,80.61 88.15,83.34 89.15,86.19 90.15,88.86 91.15,91.07 92.15,93.27 93.15,95.95 94.15,99.01 95.15,102.25 96.15,105.64 97.15,109.12 98.15,112.64 99.15,116.15 100.15,119.75 101.15,123.56 102.15,127.64 103.15,132.11 104.15,136.94 105.15,142.03 106.15,147.26 107.15,152.52 108.15,157.7 109.15,162.69 110.15,167.46 111.15,172.14 112.15,176.95 113.15,182.08 114.15,187.46 115.15,193 116.15,198.6 117.15,204.33 118.15,210.25 119.15,215.79 120.15,220.47 121.15,224.74 122.15,228.94 123.15,233.26 124.15,237.65 125.15,241.86 126.15,245.68 127.15,249.19 128.15,252.47 129.15,255.57 130.15,258.44 131.15,260.9 132.15,263.21 133.15,265.6 134.15,268.02 135.15,270.42 136.15,272.82 137.15,275.24 138.15,277.69 139.15,280.17 140.15,282.74 141.15,285.4 142.15,288.14 143.15,290.9 144.15,293.59 145.15,296.17 146.15,298.62 147.15,300.97 148.15,303.26 149.15,305.47 150.15,307.59 151.15,309.62 152.15,311.57 153.15,313.42 154.15,315.18 155.15,316.88 156.15,318.52 157.15,320.1 158.15,321.63 159.15,323.09 160.15,324.44 161.15,325.66 162.15,326.73 163.15,327.69 164.15,328.6 165.15,329.47 166.15,330.26 167.15,330.95 168.15,331.55 169.15,332.07 170.15,332.54 171.15,332.97 172.15,333.35 173.15,333.68 174.15,333.98 175.15,334.22 176.15,334.44 177.15,334.63 178.15,334.77 179.15,334.89 180.15,334.96 181.15,335.03 182.15,335.08 183.15,335.14 184.15,335.19 185.15,335.22 186.15,335.27 187.15,335.33 188.15,335.42 189.15,335.52 190.15,335.52 191.15,335.51 192.15,335.47 193.15,335.47 194.15,335.54 195.15,335.67 196.15,335.84 197.15,335.99 198.15,336.11 199.15,336.15 200.15,336.18 201.15,336.14 202.15,336.07 203.15,336 204.15,335.92 205.15,335.86 206.15,335.84 207.15,335.84 208.15,335.95 209.15,336.06 210.15,336.19 211.15,336.31 212.15,336.39 213.15,336.36 214.15,336.21 215.15,336.04 216.15,335.78 217.15,335.62 218.15,335.51 219.15,335.63 220.15,335.83 221.15,336.15 222.15,336.29 223.15,336.31 224.15,336.12 225.15,335.86 226.15,335.83 227.15,335.84 228.15,336.02 229.15,336.17 230.15,336.24 231.15,336.29 232.15,336.31 233.15,336.27 234.15,336.23 235.15,336.04 236.15,335.87 237.15,335.82 238.15,335.86 239.15,336.05 240.15,336.21 241.15,336.34 242.15,336.42 243.15,336.48 244.15,336.59 245.15,336.67 246.15,336.62 247.15,336.54 248.15,336.42 249.15,336.28 250.15,336.14 251.15,336.02 252.15,335.91 253.15,336.07 254.15,336.23 255.15,336.4 256.15,336.54 257.15,336.64 258.15,336.64 259.15,336.57 260.15,336.39 261.15,336.17 262.15,336.24 263.15,336.31 264.15,336.43 265.15,336.46 266.15,336.35 267.15,336.27 268.15,336.19 269.15,336.2 270.15,336.23 271.15,336.33 272.15,336.4 273.15,336.37 274.15,336.26 275.15,336.04 276.15,335.82 277.15,335.6 278.15,335.61 279.15,335.67 280.15,335.95 281.15,336.18 282.15,336.2 283.15,336.16 284.15,336.05 285.15,335.99 286.15,335.97 287.15,336.02 288.15,336.09 289.15,336.28 290.15,336.42 291.15,336.32 292.15,336.16 293.15,335.91 294.15,335.88 295.15,336 296.15,336.14 297.15,336.28 298.15,336.26 299.15,336.27 300.15,336.41 301.15,336.56 302.15,336.72 303.15,336.77 304.15,336.75 305.15,336.76 306.15,336.77 307.15,336.63 308.15,336.49 309.15,336.35 310.15,336.34 311.15,336.52 312.15,336.57 313.15,336.55 314.15,336.46 315.15,336.36 316.15,336.58 317.15,336.77 318.15,336.84 319.15,336.75 320.15,336.43 321.15,336.23 322.15,336.1 323.15,336.08 324.15,336.08 325.15,335.9 326.15,335.76 327.15,335.79 328.15,335.91 329.15,336.17 330.15,336.37 331.15,336.54 332.15,336.6 333.15,336.64 334.15,336.69 335.15,336.71 336.15,336.66 337.15,336.55 338.15,336.36 339.15,336.23 340.15,336.14 341.15,336.13 342.15,336.14 343.15,336.24 344.15,336.36 345.15,336.54 346.15,336.6 347.15,336.46 348.15,336.25 349.15,336 350.15,335.99 351.15,336.03 352.15,335.99 353.15,335.96 354.15,336.02 355.15,336.18 356.15,336.52 357.15,336.76 358.15,336.92 359.15,336.91 360.15,336.86 361.15,336.86 362.15,336.84 363.15,336.76 364.15,336.63 365.15,336.43 366.15,336.33 367.15,336.29 368.15,336.23 369.15,336.16 370.15,335.99 371.15,335.87 372.15,335.95 373.15,336.16 374.15,336.55 375.15,336.83 376.15,337.02 377.15,336.89 378.15,336.68 379.15,336.46 380.15,336.27 381.15,336.19 382.15,336.12 383.15,336.05 384.15,336.11 385.15,336.27 386.15,336.55 387.15,336.86 388.15,336.94 389.15,336.97 390.15,336.85 391.15,336.74 392.15,336.62 393.15,336.53 394.15,336.44 395.15,336.4 396.15,336.36 397.15,336.37 398.15,336.37 399.15,336.34 400.15,336.33 401.15,336.33 402.15,336.37 403.15,336.44 404.15,336.43 405.15,336.4 406.15,336.35 407.15,336.33 408.15,336.43 409.15,336.56 410.15,336.73 411.15,336.74 412.15,336.65 413.15,336.4 414.15,336.1 415.15,336.07 416.15,336.07 417.15,336.25 418.15,336.36 419.15,336.37 420.15,336.35 421.15,336.3 422.15,336.4 423.15,336.54 424.15,336.66 425.15,336.74 426.15,336.7 427.15,336.66 428.15,336.62 429.15,336.51 430.15,336.37 431.15,336.29 432.15,336.23 433.15,336.29 434.15,336.34 435.15,336.29 436.15,336.22 437.15,336.09 438.15,336 439.15,335.94 440.15,335.98 441.15,336.04 442.15,336.11 443.15,336.19 444.15,336.31 445.15,336.45 446.15,336.58 447.15,336.67 448.15,336.71 449.15,336.71 450.15,336.7 451.15,336.62 452.15,336.56 453.15,336.54 454.15,336.55 455.15,336.6 456.15,336.65 457.15,336.69 458.15,336.65 459.15,336.59 460.15,336.46 461.15,336.36 462.15,336.37 463.15,336.42 464.15,336.53 465.15,336.63 466.15,336.74 467.15,336.69 468.15,336.61 469.15,336.45 470.15,336.34 471.15,336.4 472.15,336.46 473.15,336.53 474.15,336.56 475.15,336.57 476.15,336.62 477.15,336.67 478.15,336.51 479.15,336.34 480.15,336.17 481.15,336.12 482.15,336.27 483.15,336.37 484.15,336.44 485.15,336.38 486.15,336.3 487.15,336.15 488.15,336.03 489.15,335.99 490.15,336.03 491.15,336.22 492.15,336.25 493.15,336.17 494.15,336.07 495.15,335.97 496.15,335.98 497.15,335.99 498.15,335.96 499.15,335.98 500.15,336.06 501.15,336.06 502,336.02"/>
<polyline points="72.15,61 72.4,60.31 72.65,59.62 72.9,59.06 73.15,58.7 73.4,58.34 73.65,58.25 73.9,58.33 74.15,58.42 74.4,58.86 74.65,59.84 74.9,61.09 75.15,62.74 75.4,64.63 75.65,66.52 75.9,68.1 76.15,69.45 76.4,69.89 76.65,70.06 76.9,69.35 77.15,68.64 77.4,67.93 77.65,67.22 77.9,66.87 78.15,67.03 78.4,67.2 78.65,67.95 78.9,68.7 79.15,69.45 79.4,70.2 79.65,70.83 79.9,70.97 80.15,71.11 80.4,71.11 80.65,70.9 80.9,70.69 81.15,70.73 81.4,70.94 81.65,71.16 81.9,71.6 82.15,72.17 83.15,73.48 84.15,75.04 85.15,76.61 86.15,78.32 87.15,80.35 88.15,82.81 89.15,85.49 90.15,88.12 91.15,90.44 92.15,92.62 93.15,95.11 94.15,97.89 95.15,100.82 96.15,103.82 97.15,106.84 98.15,109.85 99.15,112.86 100.15,115.88 101.15,118.9 102.15,121.94 103.15,124.97 104.15,128.02 105.15,131.08 106.15,134.17 107.15,137.3 108.15,140.42 109.15,143.48 110.15,146.42 111.15,149.19 112.15,151.82 113.15,154.45 114.15,157.19 115.15,160.16 116.15,163.42 117.15,166.85 118.15,170.37 119.15,173.9 120.15,177.37 121.15,180.56 122.15,182.81 123.15,185.52 124.15,188.48 125.15,191.48 126.15,194.52 127.15,197.62 128.15,200.84 129.15,204.39 130.15,208.1 131.15,211.46 132.15,214.66 133.15,217.84 134.15,220.96 135.15,224 136.15,226.89 137.15,229.6 138.15,232.03 139.15,234.21 140.15,236.2 141.15,238.08 142.15,239.91 143.15,241.78 144.15,243.59 145.15,245.3 146.15,247.01 147.15,248.86 148.15,251.02 149.15,253.54 150.15,256.33 151.15,259.19 152.15,261.88 153.15,264.42 154.15,267.05 155.15,269.84 156.15,272.73 157.15,275.65 158.15,278.55 159.15,281.37 160.15,284.08 161.15,286.73 162.15,289.42 163.15,292.23 164.15,295.05 165.15,297.73 166.15,300.04 167.15,301.95 168.15,303.74 169.15,305.58 170.15,307.37 171.15,309.22 172.15,311.21 173.15,313.64 174.15,316.25 175.15,318.56 176.15,320.38 177.15,321.9 178.15,323.31 179.15,324.6 180.15,325.75 181.15,326.77 182.15,327.68 183.15,328.51 184.15,329.21 185.15,329.85 186.15,330.45 187.15,330.97 188.15,331.47 189.15,331.93 190.15,332.36 191.15,332.76 192.15,333.13 193.15,333.46 194.15,333.76 195.15,334.05 196.15,334.31 197.15,334.55 198.15,334.75 199.15,334.91 200.15,335.01 201.15,335.01 202.15,334.97 203.15,335.01 204.15,335.16 205.15,335.37 206.15,335.46 207.15,335.52 208.15,335.57 209.15,335.63 210.15,335.8 211.15,335.92 212.15,335.99 213.15,336.01 214.15,335.98 215.15,335.99 216.15,336 217.15,336.1 218.15,336.2 219.15,336.3 220.15,336.36 221.15,336.36 222.15,336.35 223.15,336.32 224.15,336.25 225.15,336.23 226.15,336.21 227.15,336.18 228.15,336.41 229.15,336.59 230.15,336.72 231.15,336.61 232.15,336.36 233.15,336.08 234.15,335.79 235.15,335.91 236.15,336.02 237.15,336.14 238.15,336.14 239.15,335.99 240.15,336 241.15,336.13 242.15,336.25 243.15,336.37 244.15,336.33 245.15,336.33 246.15,336.51 247.15,336.61 248.15,336.62 249.15,336.54 250.15,336.4 251.15,336.4 252.15,336.44 253.15,336.49 254.15,336.52 255.15,336.54 256.15,336.55 257.15,336.53 258.15,336.42 259.15,336.26 260.15,336.23 261.15,336.24 262.15,336.39 263.15,336.49 264.15,336.39 265.15,336.3 266.15,336.23 267.15,336.34 268.15,336.56 269.15,336.66 270.15,336.73 271.15,336.43 272.15,336.16 273.15,335.99 274.15,335.93 275.15,336.03 276.15,336.12 277.15,336.19 278.15,336.29 279.15,336.38 280.15,336.44 281.15,336.47 282.15,336.41 283.15,336.37 284.15,336.34 285.15,336.23 286.15,336.07 287.15,336.03 288.15,336.02 289.15,336.29 290.15,336.53 291.15,336.68 292.15,336.75 293.15,336.71 294.15,336.64 295.15,336.53 296.15,336.46 297.15,336.4 298.15,336.41 299.15,336.43 300.15,336.44 301.15,336.42 302.15,336.38 303.15,336.38 304.15,336.41 305.15,336.45 306.15,336.48 307.15,336.47 308.15,336.48 309.15,336.53 310.15,336.61 311.15,336.74 312.15,336.83 313.15,336.9 314.15,336.77 315.15,336.58 316.15,336.36 317.15,336.18 318.15,336.16 319.15,336.2 320.15,336.32 321.15,336.41 322.15,336.47 323.15,336.44 324.15,336.38 325.15,336.49 326.15,336.57 327.15,336.52 328.15,336.32 329.15,335.91 330.15,335.74 331.15,335.73 332.15,335.97 333.15,336.27 334.15,336.38 335.15,336.45 336.15,336.39 337.15,336.34 338.15,336.32 339.15,336.35 340.15,336.43 341.15,336.42 342.15,336.39 343.15,336.45 344.15,336.55 345.15,336.76 346.15,336.83 347.15,336.68 348.15,336.48 349.15,336.24 350.15,336.19 351.15,336.18 352.15,336.2 353.15,336.19 354.15,336.02 355.15,335.83 356.15,335.63 357.15,335.69 358.15,335.92 359.15,336.13 360.15,336.35 361.15,336.22 362.15,336.14 363.15,336.21 364.15,336.34 365.15,336.55 366.15,336.7 367.15,336.8 368.15,336.71 369.15,336.57 370.15,336.26 371.15,336.01 372.15,335.98 373.15,336.02 374.15,336.18 375.15,336.35 376.15,336.52 377.15,336.45 378.15,336.32 379.15,336.09 380.15,335.92 381.15,336 382.15,336.08 383.15,336.14 384.15,336.14 385.15,336.11 386.15,336.07 387.15,336.03 388.15,336.19 389.15,336.34 390.15,336.5 391.15,336.57 392.15,336.47 393.15,336.43 394.15,336.43 395.15,336.48 396.15,336.54 397.15,336.48 398.15,336.43 399.15,336.47 400.15,336.56 401.15,336.73 402.15,336.77 403.15,336.73 404.15,336.71 405.15,336.7 406.15,336.76 407.15,336.77 408.15,336.58 409.15,336.44 410.15,336.38 411.15,336.36 412.15,336.36 413.15,336.37 414.15,336.39 415.15,336.46 416.15,336.52 417.15,336.52 418.15,336.47 419.15,336.35 420.15,336.13 421.15,335.86 422.15,335.81 423.15,335.81 424.15,336 425.15,336.13 426.15,336.05 427.15,335.95 428.15,335.8 429.15,335.81 430.15,335.94 431.15,336.21 432.15,336.53 433.15,336.69 434.15,336.81 435.15,336.71 436.15,336.56 437.15,336.34 438.15,336.18 439.15,336.06 440.15,336.07 441.15,336.11 442.15,336.35 443.15,336.56 444.15,336.64 445.15,336.64 446.15,336.52 447.15,336.55 448.15,336.68 449.15,336.71 450.15,336.72 451.15,336.39 452.15,336.11 453.15,336.02 454.15,336.06 455.15,336.3 456.15,336.39 457.15,336.38 458.15,336.29 459.15,336.19 460.15,336.29 461.15,336.41 462.15,336.55 463.15,336.63 464.15,336.61 465.15,336.52 466.15,336.4 467.15,336.49 468.15,336.64 469.15,336.84 470.15,336.98 471.15,336.88 472.15,336.72 473.15,336.45 474.15,336.3 475.15,336.23 476.15,336.33 477.15,336.48 478.15,336.47 479.15,336.48 480.15,336.51 481.15,336.55 482.15,336.61 483.15,336.47 484.15,336.18 485.15,335.91 486.15,335.64 487.15,335.67 488.15,335.71 489.15,335.82 490.15,335.98 491.15,336.22 492.15,336.34 493.15,336.39 494.15,336.31 495.15,336.19 496.15,336.26 497.15,336.35 498.15,336.45 499.15,336.53 500.15,336.57 501.15,336.66 502,336.76"/>
<polyline points="72.15,61 72.4,60.31 72.65,59.62 72.9,59.06 73.15,58.7 73.4,58.34 73.65,58.24 73.9,58.29 74.15,58.35 74.4,58.77 74.65,59.73 74.9,60.95 75.15,62.57 75.4,64.44 75.65,66.3 75.9,67.86 76.15,69.19 76.4,69.6 76.65,69.76 76.9,69.05 77.15,68.34 77.4,67.63 77.65,66.92 77.9,66.57 78.15,66.73 78.4,66.9 78.65,67.65 78.9,68.4 79.15,69.15 79.4,69.9 79.65,70.53 79.9,70.67 80.15,70.81 80.4,70.81 80.65,70.6 80.9,70.39 81.15,70.43 81.4,70.64 81.65,70.86 81.9,71.3 82.15,71.56 83.15,72.69 84.15,74 85.15,75.4 86.15,76.84 87.15,78.31 88.15,79.8 89.15,81.31 90.15,82.82 91.15,84.33 92.15,85.82 93.15,87.29 94.15,88.71 95.15,90.03 96.15,91.29 97.15,92.54 98.15,93.75 99.15,94.94 100.15,96.15 101.15,97.33 102.15,98.53 103.15,99.71 104.15,100.88 105.15,102.06 106.15,103.23 107.15,104.42 108.15,105.63 109.15,106.86 110.15,108.1 111.15,109.38 112.15,110.68 113.15,112.01 114.15,113.38 115.15,114.77 116.15,116.23 117.15,117.73 118.15,119.28 119.15,120.84 120.15,122.4 121.15,123.95 122.15,125.47 123.15,126.97 124.15,128.46 125.15,129.93 126.15,131.36 127.15,132.75 128.15,134.09 129.15,135.38 130.15,136.6 131.15,137.76 132.15,138.88 133.15,139.97 134.15,141.07 135.15,142.2 136.15,143.37 137.15,144.58 138.15,145.77 139.15,146.91 140.15,148.04 141.15,149.2 142.15,150.43 143.15,151.8 144.15,153.33 145.15,155.02 146.15,156.87 147.15,158.82 148.15,160.85 149.15,162.95 150.15,165.09 151.15,167.24 152.15,169.46 153.15,171.75 154.15,174.1 155.15,176.48 156.15,178.87 157.15,181.23 158.15,183.53 159.15,185.73 160.15,187.84 161.15,189.85 162.15,191.79 163.15,193.7 164.15,195.63 165.15,197.55 166.15,199.46 167.15,201.39 168.15,203.33 169.15,205.29 170.15,207.27 171.15,209.33 172.15,211.52 173.15,213.88 174.15,216.48 175.15,219.26 176.15,222.04 177.15,224.62 178.15,226.88 179.15,228.84 180.15,230.64 181.15,232.36 182.15,234.08 183.15,235.88 184.15,237.87 185.15,240.12 186.15,242.5 187.15,244.74 188.15,246.65 189.15,248.32 190.15,249.9 191.15,251.46 192.15,253.08 193.15,254.76 194.15,256.51 195.15,258.27 196.15,260.04 197.15,261.83 198.15,263.64 199.15,265.48 200.15,267.39 201.15,269.37 202.15,271.39 203.15,273.42 204.15,275.44 205.15,277.41 206.15,279.32 207.15,281.17 208.15,282.97 209.15,284.73 210.15,286.44 211.15,288.1 212.15,289.73 213.15,291.33 214.15,292.91 215.15,294.47 216.15,296.02 217.15,297.58 218.15,299.19 219.15,300.81 220.15,302.36 221.15,303.79 222.15,305.09 223.15,306.29 224.15,307.41 225.15,308.46 226.15,309.48 227.15,310.46 228.15,311.41 229.15,312.33 230.15,313.23 231.15,314.09 232.15,314.92 233.15,315.72 234.15,316.44 235.15,317.14 236.15,317.81 237.15,318.47 238.15,319.13 239.15,319.8 240.15,320.47 241.15,321.18 242.15,321.89 243.15,322.61 244.15,323.33 245.15,324.06 246.15,324.79 247.15,325.5 248.15,326.21 249.15,326.89 250.15,327.55 251.15,328.16 252.15,328.74 253.15,329.27 254.15,329.75 255.15,330.19 256.15,330.6 257.15,330.97 258.15,331.31 259.15,331.61 260.15,331.89 261.15,332.15 262.15,332.4 263.15,332.64 264.15,332.88 265.15,333.11 266.15,333.32 267.15,333.53 268.15,333.71 269.15,333.89 270.15,334.05 271.15,334.22 272.15,334.38 273.15,334.53 274.15,334.67 275.15,334.79 276.15,334.91 277.15,335.03 278.15,335.14 279.15,335.24 280.15,335.38 281.15,335.49 282.15,335.59 283.15,335.65 284.15,335.64 285.15,335.61 286.15,335.56 287.15,335.52 288.15,335.49 289.15,335.49 290.15,335.5 291.15,335.59 292.15,335.69 293.15,335.83 294.15,335.97 295.15,336.1 296.15,336.14 297.15,336.15 298.15,336.08 299.15,335.99 300.15,335.91 301.15,335.85 302.15,335.83 303.15,335.9 304.15,336.03 305.15,336.12 306.15,336.15 307.15,335.97 308.15,335.84 309.15,335.94 310.15,336.08 311.15,336.3 312.15,336.43 313.15,336.5 314.15,336.48 315.15,336.44 316.15,336.36 317.15,336.28 318.15,336.26 319.15,336.19 320.15,336.07 321.15,335.94 322.15,335.8 323.15,335.87 324.15,336 325.15,336.07 326.15,336.14 327.15,336.17 328.15,336.32 329.15,336.64 330.15,336.94 331.15,337.23 332.15,337.19 333.15,337.07 334.15,336.67 335.15,336.31 336.15,336.07 337.15,335.93 338.15,335.96 339.15,336.01 340.15,336.09 341.15,336.25 342.15,336.43 343.15,336.57 344.15,336.63 345.15,336.39 346.15,336.21 347.15,336.11 348.15,336.21 349.15,336.46 350.15,336.61 351.15,336.73 352.15,336.65 353.15,336.59 354.15,336.61 355.15,336.65 356.15,336.72 357.15,336.6 358.15,336.37 359.15,336.31 360.15,336.28 361.15,336.22 362.15,336.1 363.15,335.74 364.15,335.5 365.15,335.44 366.15,335.6 367.15,335.9 368.15,336.28 369.15,336.69 370.15,336.65 371.15,336.54 372.15,336.11 373.15,335.74 374.15,335.47 375.15,335.41 376.15,335.51 377.15,335.72 378.15,335.96 379.15,336.06 380.15,336.14 381.15,336.18 382.15,336.15 383.15,335.99 384.15,335.95 385.15,335.97 386.15,336.28 387.15,336.67 388.15,336.64 389.15,336.56 390.15,336.28 391.15,336.15 392.15,336.25 393.15,336.45 394.15,336.72 395.15,336.68 396.15,336.56 397.15,336.4 398.15,336.29 399.15,336.4 400.15,336.45 401.15,336.43 402.15,336.35 403.15,336.22 404.15,336.07 405.15,335.92 406.15,335.98 407.15,336.06 408.15,336.18 409.15,336.21 410.15,336.11 411.15,336.11 412.15,336.19 413.15,336.26 414.15,336.34 415.15,336.36 416.15,336.42 417.15,336.62 418.15,336.74 419.15,336.71 420.15,336.64 421.15,336.54 422.15,336.64 423.15,336.8 424.15,336.95 425.15,337.04 426.15,336.93 427.15,336.8 428.15,336.64 429.15,336.58 430.15,336.59 431.15,336.49 432.15,336.37 433.15,336.15 434.15,336.01 435.15,336.21 436.15,336.43 437.15,336.65 438.15,336.64 439.15,336.48 440.15,336.51 441.15,336.59 442.15,336.73 443.15,336.79 444.15,336.57 445.15,336.37 446.15,336.2 447.15,336.13 448.15,336.15 449.15,336.15 450.15,336.16 451.15,336.11 452.15,336.08 453.15,336.11 454.15,336.14 455.15,336.16 456.15,336.12 457.15,336.03 458.15,335.86 459.15,335.66 460.15,335.76 461.15,335.92 462.15,336.29 463.15,336.43 464.15,336.23 465.15,336 466.15,335.74 467.15,335.9 468.15,336.17 469.15,336.31 470.15,336.43 471.15,336.54 472.15,336.63 473.15,336.69 474.15,336.6 475.15,336.39 476.15,336.13 477.15,335.86 478.15,335.79 479.15,335.8 480.15,336.19 481.15,336.5 482.15,336.68 483.15,336.62 484.15,336.41 485.15,336.46 486.15,336.56 487.15,336.72 488.15,336.81 489.15,336.64 490.15,336.44 491.15,336.2 492.15,336.11 493.15,336.13 494.15,336.35 495.15,336.62 496.15,336.67 497.15,336.66 498.15,336.37 499.15,336.12 500.15,335.95 501.15,335.87 502,335.87"/>
<polyline points="72.15,61 72.4,60.31 72.65,59.62 72.9,59.06 73.15,58.7 73.4,58.34 73.65,58.17 73.9,58.12 74.15,58.07 74.4,58.38 74.65,59.23 74.9,60.35 75.15,61.86 75.4,63.62 75.65,65.37 75.9,66.82 76.15,68.04 76.4,68.34 76.65,68.46 76.9,67.75 77.15,67.04 77.4,66.33 77.65,65.62 77.9,65.27 78.15,65.43 78.4,65.6 78.65,66.35 78.9,67.1 79.15,67.85 79.4,68.6 79.65,69.23 79.9,69.37 80.15,69.51 80.4,69.51 80.65,69.3 80.9,69.09 81.15,69.13 81.4,69.34 81.65,69.56 81.9,70 82.15,70.97 83.15,72.28 84.15,73.66 85.15,75.06 86.15,76.42 87.15,77.78 88.15,79.14 89.15,80.49 90.15,81.82 91.15,83.12 92.15,84.4 93.15,85.63 94.15,86.8 95.15,87.87 96.15,88.87 97.15,89.86 98.15,90.79 99.15,91.72 100.15,92.68 101.15,93.62 102.15,94.62 103.15,95.62 104.15,96.63 105.15,97.64 106.15,98.64 107.15,99.63 108.15,100.58 109.15,101.52 110.15,102.48 111.15,103.43 112.15,104.38 113.15,105.32 114.15,106.25 115.15,107.15 116.15,107.98 117.15,108.79 118.15,109.55 119.15,110.26 120.15,110.96 121.15,111.66 122.15,112.35 123.15,113.05 124.15,113.79 125.15,114.52 126.15,115.29 127.15,116.14 128.15,117 129.15,117.94 130.15,118.97 131.15,120 132.15,121.08 133.15,122.29 134.15,123.51 135.15,124.74 136.15,126.09 137.15,127.5 138.15,128.97 139.15,130.46 140.15,132 141.15,133.51 142.15,134.96 143.15,136.32 144.15,137.6 145.15,138.79 146.15,139.93 147.15,141.05 148.15,142.18 149.15,143.37 150.15,144.63 151.15,145.96 152.15,147.3 153.15,148.68 154.15,150.08 155.15,151.5 156.15,152.91 157.15,154.33 158.15,155.8 159.15,157.32 160.15,158.87 161.15,160.4 162.15,161.87 163.15,163.26 164.15,164.52 165.15,165.61 166.15,166.55 167.15,167.41 168.15,168.26 169.15,169.16 170.15,170.16 171.15,171.34 172.15,172.71 173.15,174.21 174.15,175.79 175.15,177.45 176.15,179.1 177.15,180.7 178.15,182.22 179.15,183.69 180.15,185.12 181.15,186.51 182.15,187.91 183.15,189.34 184.15,190.79 185.15,192.27 186.15,193.82 187.15,195.4 188.15,196.99 189.15,198.58 190.15,200.16 191.15,201.71 192.15,203.21 193.15,204.65 194.15,206.04 195.15,207.41 196.15,208.75 197.15,210.06 198.15,211.37 199.15,212.69 200.15,214.01 201.15,215.28 202.15,216.54 203.15,217.82 204.15,219.1 205.15,220.36 206.15,221.66 207.15,222.97 208.15,224.3 209.15,225.63 210.15,226.98 211.15,228.34 212.15,229.72 213.15,231.11 214.15,232.53 215.15,233.99 216.15,235.46 217.15,236.94 218.15,238.43 219.15,239.89 220.15,241.32 221.15,242.74 222.15,244.15 223.15,245.55 224.15,246.96 225.15,248.4 226.15,249.86 227.15,251.36 228.15,252.9 229.15,254.47 230.15,256.09 231.15,257.72 232.15,259.37 233.15,261.01 234.15,262.62 235.15,264.17 236.15,265.66 237.15,267.15 238.15,268.68 239.15,270.26 240.15,271.94 241.15,273.71 242.15,275.55 243.15,277.42 244.15,279.28 245.15,281.14 246.15,282.97 247.15,284.79 248.15,286.59 249.15,288.38 250.15,290.17 251.15,291.94 252.15,293.68 253.15,295.36 254.15,296.95 255.15,298.44 256.15,299.82 257.15,301.11 258.15,302.32 259.15,303.44 260.15,304.46 261.15,305.39 262.15,306.23 263.15,306.9 264.15,307.35 265.15,307.55 266.15,307.64 267.15,307.79 268.15,308.15 269.15,308.86 270.15,309.94 271.15,311.33 272.15,312.98 273.15,314.68 274.15,316.26 275.15,317.69 276.15,318.87 277.15,319.86 278.15,320.72 279.15,321.45 280.15,322.14 281.15,322.81 282.15,323.47 283.15,324.14 284.15,324.78 285.15,325.42 286.15,326.02 287.15,326.59 288.15,327.13 289.15,327.63 290.15,328.1 291.15,328.54 292.15,328.94 293.15,329.3 294.15,329.64 295.15,329.96 296.15,330.26 297.15,330.56 298.15,330.86 299.15,331.14 300.15,331.42 301.15,331.68 302.15,331.94 303.15,332.2 304.15,332.44 305.15,332.69 306.15,332.95 307.15,333.19 308.15,333.43 309.15,333.66 310.15,333.88 311.15,334.1 312.15,334.33 313.15,334.55 314.15,334.75 315.15,334.94 316.15,335.08 317.15,335.18 318.15,335.23 319.15,335.24 320.15,335.29 321.15,335.44 322.15,335.66 323.15,335.77 324.15,335.84 325.15,335.82 326.15,335.81 327.15,335.92 328.15,336 329.15,336.01 330.15,335.96 331.15,335.78 332.15,335.73 333.15,335.73 334.15,335.96 335.15,336.15 336.15,336.18 337.15,336.22 338.15,336.26 339.15,336.29 340.15,336.3 341.15,336.2 342.15,336.07 343.15,336.07 344.15,336.08 345.15,336.09 346.15,336.11 347.15,336.14 348.15,336.15 349.15,336.15 350.15,336.16 351.15,336.17 352.15,336.31 353.15,336.39 354.15,336.27 355.15,336.13 356.15,335.96 357.15,335.96 358.15,336.07 359.15,336.17 360.15,336.26 361.15,336.05 362.15,335.84 363.15,335.61 364.15,335.47 365.15,335.47 366.15,335.42 367.15,335.34 368.15,335.73 369.15,336.25 370.15,336.97 371.15,337.53 372.15,337.41 373.15,337.18 374.15,336.79 375.15,336.4 376.15,336 377.15,335.79 378.15,335.61 379.15,335.85 380.15,336.08 381.15,336.25 382.15,336.3 383.15,336.18 384.15,336 385.15,335.79 386.15,335.71 387.15,335.65 388.15,335.96 389.15,336.28 390.15,336.6 391.15,336.72 392.15,336.55 393.15,336.33 394.15,336.08 395.15,335.96 396.15,335.86 397.15,335.68 398.15,335.53 399.15,335.54 400.15,335.71 401.15,336.14 402.15,336.51 403.15,336.85 404.15,336.71 405.15,336.45 406.15,336.26 407.15,336.17 408.15,336.47 409.15,336.74 410.15,336.96 411.15,337.05 412.15,337.05 413.15,336.72 414.15,336.32 415.15,336 416.15,335.78 417.15,335.96 418.15,336.06 419.15,336.04 420.15,335.91 421.15,335.69 422.15,335.66 423.15,335.67 424.15,335.73 425.15,335.8 426.15,335.9 427.15,336.06 428.15,336.31 429.15,336.41 430.15,336.43 431.15,336.27 432.15,336.08 433.15,336.15 434.15,336.26 435.15,336.5 436.15,336.58 437.15,336.44 438.15,336.23 439.15,335.98 440.15,336.18 441.15,336.49 442.15,336.82 443.15,337.03 444.15,336.75 445.15,336.52 446.15,336.37 447.15,336.61 448.15,337.12 449.15,337.4 450.15,337.62 451.15,336.94 452.15,336.25 453.15,335.54 454.15,335.22 455.15,335.51 456.15,335.99 457.15,336.61 458.15,336.74 459.15,336.76 460.15,336.71 461.15,336.68 462.15,336.7 463.15,336.74 464.15,336.81 465.15,336.92 466.15,337.06 467.15,336.99 468.15,336.88 469.15,336.77 470.15,336.69 471.15,336.67 472.15,336.73 473.15,336.93 474.15,337.07 475.15,337.15 476.15,336.72 477.15,336.16 478.15,336 479.15,335.92 480.15,336.16 481.15,336.26 482.15,336.15 483.15,336.06 484.15,335.98 485.15,336.06 486.15,336.17 487.15,336.37 488.15,336.55 489.15,336.64 490.15,336.64 491.15,336.53 492.15,336.38 493.15,336.21 494.15,335.96 495.15,335.69 496.15,335.63 497.15,335.65 498.15,336.06 499.15,336.39 500.15,336.59 501.15,336.59 502,336.48"/>
<polyline points="72.15,61 72.4,60.31 72.65,59.62 72.9,59.06 73.15,58.7 73.4,58.34 73.65,58.16 73.9,58.08 74.15,58.01 74.4,58.29 74.65,59.12 74.9,60.21 75.15,61.69 75.4,63.43 75.65,65.16 75.9,66.58 76.15,67.78 76.4,68.05 76.65,68.16 76.9,67.45 77.15,66.74 77.4,66.03 77.65,65.32 77.9,64.97 78.15,65.13 78.4,65.3 78.65,66.05 78.9,66.8 79.15,67.55 79.4,68.3 79.65,68.93 79.9,69.07 80.15,69.21 80.4,69.21 80.65,69 80.9,68.79 81.15,68.83 81.4,69.04 81.65,69.26 81.9,69.7 82.15,70.94 83.15,71.91 84.15,72.92 85.15,74.02 86.15,75.15 87.15,76.3 88.15,77.41 89.15,78.46 90.15,79.43 91.15,80.35 92.15,81.23 93.15,82.12 94.15,83.06 95.15,84.12 96.15,85.27 97.15,86.46 98.15,87.65 99.15,88.8 100.15,89.9 101.15,90.88 102.15,91.73 103.15,92.45 104.15,93.11 105.15,93.77 106.15,94.48 107.15,95.31 108.15,96.3 109.15,97.51 110.15,98.88 111.15,100.33 112.15,101.82 113.15,103.28 114.15,104.65 115.15,105.84 116.15,106.88 117.15,107.79 118.15,108.64 119.15,109.45 120.15,110.27 121.15,111.14 122.15,112.1 123.15,113.14 124.15,114.23 125.15,115.35 126.15,116.49 127.15,117.64 128.15,118.79 129.15,119.92 130.15,121.07 131.15,122.24 132.15,123.42 133.15,124.58 134.15,125.73 135.15,126.83 136.15,127.86 137.15,128.82 138.15,129.69 139.15,130.53 140.15,131.34 141.15,132.18 142.15,133.08 143.15,134.07 144.15,135.14 145.15,136.29 146.15,137.5 147.15,138.79 148.15,140.12 149.15,141.52 150.15,142.97 151.15,144.56 152.15,146.21 153.15,147.98 154.15,149.77 155.15,151.54 156.15,153.27 157.15,154.89 158.15,156.37 159.15,157.74 160.15,159.05 161.15,160.26 162.15,161.47 163.15,162.68 164.15,163.88 165.15,165.18 166.15,166.4 167.15,167.62 168.15,168.84 169.15,169.92 170.15,170.95 171.15,171.91 172.15,172.76 173.15,173.56 174.15,174.34 175.15,175.08 176.15,175.81 177.15,176.54 178.15,177.3 179.15,178.01 180.15,178.73 181.15,179.5 182.15,180.27 183.15,181.14 184.15,182.13 185.15,183.2 186.15,184.41 187.15,185.72 188.15,187.08 189.15,188.5 190.15,189.94 191.15,191.37 192.15,192.8 193.15,194.2 194.15,195.59 195.15,196.96 196.15,198.34 197.15,199.71 198.15,201.04 199.15,202.4 200.15,203.74 201.15,205.06 202.15,206.4 203.15,207.7 204.15,209.01 205.15,210.3 206.15,211.57 207.15,212.86 208.15,214.16 209.15,215.45 210.15,216.74 211.15,217.99 212.15,219.2 213.15,220.35 214.15,221.41 215.15,222.41 216.15,223.36 217.15,224.28 218.15,225.19 219.15,226.13 220.15,227.1 221.15,228.09 222.15,229.07 223.15,230.05 224.15,231.1 225.15,232.19 226.15,233.38 227.15,234.69 228.15,236.14 229.15,237.75 230.15,239.44 231.15,241.17 232.15,242.89 233.15,244.58 234.15,246.16 235.15,247.64 236.15,249.05 237.15,250.43 238.15,251.78 239.15,253.13 240.15,254.48 241.15,255.88 242.15,257.34 243.15,258.85 244.15,260.33 245.15,261.79 246.15,263.22 247.15,264.58 248.15,265.77 249.15,266.84 250.15,267.81 251.15,268.71 252.15,269.52 253.15,270.35 254.15,271.22 255.15,272.16 256.15,273.14 257.15,274.17 258.15,275.23 259.15,276.29 260.15,277.34 261.15,278.38 262.15,279.41 263.15,280.39 264.15,281.35 265.15,282.32 266.15,283.29 267.15,284.25 268.15,285.22 269.15,286.21 270.15,287.23 271.15,288.26 272.15,289.29 273.15,290.34 274.15,291.4 275.15,292.46 276.15,293.52 277.15,294.57 278.15,295.62 279.15,296.67 280.15,297.73 281.15,298.82 282.15,299.93 283.15,301.07 284.15,302.29 285.15,303.58 286.15,304.89 287.15,306.17 288.15,307.39 289.15,308.51 290.15,309.45 291.15,310.21 292.15,310.85 293.15,311.42 294.15,311.84 295.15,312.25 296.15,312.69 297.15,313.16 298.15,313.56 299.15,313.94 300.15,314.34 301.15,314.75 302.15,315.16 303.15,315.62 304.15,316.16 305.15,316.76 306.15,317.4 307.15,318.08 308.15,318.74 309.15,319.3 310.15,319.77 311.15,320.13 312.15,320.37 313.15,320.5 314.15,320.6 315.15,320.73 316.15,320.92 317.15,321.19 318.15,321.57 319.15,322.06 320.15,322.6 321.15,323.16 322.15,323.71 323.15,324.24 324.15,324.72 325.15,325.12 326.15,325.5 327.15,325.86 328.15,326.2 329.15,326.51 330.15,326.8 331.15,327.09 332.15,327.37 333.15,327.63 334.15,327.88 335.15,328.14 336.15,328.42 337.15,328.69 338.15,328.94 339.15,329.19 340.15,329.43 341.15,329.68 342.15,329.89 343.15,330.11 344.15,330.32 345.15,330.52 346.15,330.68 347.15,330.84 348.15,331 349.15,331.12 350.15,331.21 351.15,331.3 352.15,331.37 353.15,331.42 354.15,331.46 355.15,331.5 356.15,331.52 357.15,331.55 358.15,331.57 359.15,331.61 360.15,331.65 361.15,331.69 362.15,331.75 363.15,331.82 364.15,331.89 365.15,331.96 366.15,332.04 367.15,332.14 368.15,332.24 369.15,332.34 370.15,332.44 371.15,332.55 372.15,332.66 373.15,332.77 374.15,332.87 375.15,332.98 376.15,333.09 377.15,333.2 378.15,333.31 379.15,333.42 380.15,333.52 381.15,333.64 382.15,333.75 383.15,333.85 384.15,333.96 385.15,334.04 386.15,334.12 387.15,334.17 388.15,334.3 389.15,334.43 390.15,334.54 391.15,334.63 392.15,334.69 393.15,334.74 394.15,334.81 395.15,334.92 396.15,335.04 397.15,335.11 398.15,335.19 399.15,335.24 400.15,335.3 401.15,335.34 402.15,335.36 403.15,335.34 404.15,335.31 405.15,335.28 406.15,335.3 407.15,335.33 408.15,335.38 409.15,335.4 410.15,335.34 411.15,335.29 412.15,335.25 413.15,335.34 414.15,335.45 415.15,335.53 416.15,335.58 417.15,335.51 418.15,335.44 419.15,335.4 420.15,335.55 421.15,335.79 422.15,335.95 423.15,336.08 424.15,336.14 425.15,336.18 426.15,336.17 427.15,336.13 428.15,336.02 429.15,335.91 430.15,335.82 431.15,335.85 432.15,335.9 433.15,336.02 434.15,336.1 435.15,335.98 436.15,335.82 437.15,335.62 438.15,335.67 439.15,335.89 440.15,336.23 441.15,336.6 442.15,336.62 443.15,336.63 444.15,336.65 445.15,336.54 446.15,336.26 447.15,335.92 448.15,335.56 449.15,335.84 450.15,336.3 451.15,336.82 452.15,337.2 453.15,337.01 454.15,336.73 455.15,336.3 456.15,335.99 457.15,335.76 458.15,335.98 459.15,336.32 460.15,336.71 461.15,336.99 462.15,336.84 463.15,336.71 464.15,336.59 465.15,336.58 466.15,336.64 467.15,336.55 468.15,336.41 469.15,335.95 470.15,335.54 471.15,335.32 472.15,335.33 473.15,335.68 474.15,335.81 475.15,335.79 476.15,335.52 477.15,335.2 478.15,335.5 479.15,335.81 480.15,336.16 481.15,336.34 482.15,336.27 483.15,336.07 484.15,335.79 485.15,335.51 486.15,335.24 487.15,335.27 488.15,335.35 489.15,335.64 490.15,335.97 491.15,336.34 492.15,336.57 493.15,336.7 494.15,336.51 495.15,336.24 496.15,335.79 497.15,335.43 498.15,335.44 499.15,335.6 500.15,335.98 501.15,336.21 502,336.31"/>
</g>
<g clip-path="url(#c)" fill="none" stroke="#000" stroke-width="1.4" stroke-linejoin="miter">
<circle cx="95.1" cy="86.95" r="6.4"/>
<circle cx="140.85" cy="147.84" r="6.4"/>
<circle cx="186.6" cy="206.06" r="6.4"/>
<circle cx="232.35" cy="263.23" r="6.4"/>
<circle cx="278.1" cy="310.49" r="6.4"/>
<circle cx="323.85" cy="328.1" r="6.4"/>
<circle cx="369.6" cy="333.51" r="6.4"/>
<circle cx="415.35" cy="335.64" r="6.4"/>
<circle cx="461.1" cy="334.76" r="6.4"/>
<path d="M99.7 86.09V98.89M93.3 92.49H106.1M95.1 87.89L104.3 97.09M95.1 97.09L104.3 87.89"/>
<path d="M145.45 144.74V157.54M139.05 151.14H151.85M140.85 146.54L150.05 155.74M140.85 155.74L150.05 146.54"/>
<path d="M191.2 199.98V212.78M184.8 206.38H197.6M186.6 201.78L195.8 210.98M186.6 210.98L195.8 201.78"/>
<path d="M236.95 257.2V270M230.55 263.6H243.35M232.35 259L241.55 268.2M232.35 268.2L241.55 259"/>
<path d="M282.7 304.75V317.55M276.3 311.15H289.1M278.1 306.55L287.3 315.75M278.1 315.75L287.3 306.55"/>
<path d="M328.45 323.52V336.32M322.05 329.92H334.85M323.85 325.32L333.05 334.52M323.85 334.52L333.05 325.32"/>
<path d="M374.2 327.8V340.6M367.8 334.2H380.6M369.6 329.6L378.8 338.8M369.6 338.8L378.8 329.6"/>
<path d="M419.95 329.44V342.24M413.55 335.84H426.35M415.35 331.24L424.55 340.44M415.35 340.44L424.55 331.24"/>
<path d="M465.7 330.3V343.1M459.3 336.7H472.1M461.1 332.1L470.3 341.3M461.1 341.3L470.3 332.1"/>
<path d="M99.4 92.49L109.2 102.29M99.4 102.29L109.2 92.49"/>
<path d="M145.15 147.81L154.95 157.61M145.15 157.61L154.95 147.81"/>
<path d="M190.9 206.42L200.7 216.22M190.9 216.22L200.7 206.42"/>
<path d="M236.65 262.21L246.45 272.01M236.65 272.01L246.45 262.21"/>
<path d="M282.4 307.42L292.2 317.22M282.4 317.22L292.2 307.42"/>
<path d="M328.15 325.52L337.95 335.32M328.15 335.32L337.95 325.52"/>
<path d="M373.9 329.59L383.7 339.39M373.9 339.39L383.7 329.59"/>
<path d="M419.65 330.75L429.45 340.55M419.65 340.55L429.45 330.75"/>
<path d="M465.4 331.79L475.2 341.59M465.4 341.59L475.2 331.79"/>
<path d="M108.9 95.91V108.51M102.6 102.21H115.2"/>
<path d="M154.65 150.98V163.58M148.35 157.28H160.95"/>
<path d="M200.4 207.21V219.81M194.1 213.51H206.7"/>
<path d="M246.15 260.66V273.26M239.85 266.96H252.45"/>
<path d="M291.9 302.56V315.16M285.6 308.86H298.2"/>
<path d="M337.65 323.13V335.73M331.35 329.43H343.95"/>
<path d="M383.4 328.01V340.61M377.1 334.31H389.7"/>
<path d="M429.15 329.55V342.15M422.85 335.85H435.45"/>
<path d="M474.9 330.02V342.62M468.6 336.32H481.2"/>
<rect x="108.55" y="101.17" width="9.9" height="9.9"/>
<rect x="154.3" y="159.43" width="9.9" height="9.9"/>
<rect x="200.05" y="214.83" width="9.9" height="9.9"/>
<rect x="245.8" y="259.91" width="9.9" height="9.9"/>
<rect x="291.55" y="312.88" width="9.9" height="9.9"/>
<rect x="337.3" y="326.49" width="9.9" height="9.9"/>
<rect x="383.05" y="329.79" width="9.9" height="9.9"/>
<rect x="428.8" y="331.43" width="9.9" height="9.9"/>
<rect x="474.55" y="331.08" width="9.9" height="9.9"/>
<path d="M118.1 201.47L124.3 209.97L118.1 218.47L111.9 209.97Z"/>
<path d="M163.85 319.83L170.05 328.33L163.85 336.83L157.65 328.33Z"/>
<path d="M209.6 327.62L215.8 336.12L209.6 344.62L203.4 336.12Z"/>
<path d="M255.35 327.94L261.55 336.44L255.35 344.94L249.15 336.44Z"/>
<path d="M301.1 328.05L307.3 336.55L301.1 345.05L294.9 336.55Z"/>
<path d="M346.85 328L353.05 336.5L346.85 345L340.65 336.5Z"/>
<path d="M392.6 328.07L398.8 336.57L392.6 345.07L386.4 336.57Z"/>
<path d="M438.35 327.49L444.55 335.99L438.35 344.49L432.15 335.99Z"/>
<path d="M484.1 327.93L490.3 336.43L484.1 344.93L477.9 336.43Z"/>
<path d="M115.4 179.93L130 179.93L122.7 192.53Z"/>
<path d="M161.15 299.99L175.75 299.99L168.45 312.59Z"/>
<path d="M206.9 331.68L221.5 331.68L214.2 344.28Z"/>
<path d="M252.65 331.93L267.25 331.93L259.95 344.53Z"/>
<path d="M298.4 332.16L313 332.16L305.7 344.76Z"/>
<path d="M344.15 331.89L358.75 331.89L351.45 344.49Z"/>
<path d="M389.9 332.17L404.5 332.17L397.2 344.77Z"/>
<path d="M435.65 332.25L450.25 332.25L442.95 344.85Z"/>
<path d="M481.4 331.47L496 331.47L488.7 344.07Z"/>
<path d="M120 137.25L134.6 137.25L127.3 124.65Z"/>
<path d="M165.75 217.92L180.35 217.92L173.05 205.32Z"/>
<path d="M211.5 304.55L226.1 304.55L218.8 291.95Z"/>
<path d="M257.25 337.28L271.85 337.28L264.55 324.68Z"/>
<path d="M303 340.42L317.6 340.42L310.3 327.82Z"/>
<path d="M348.75 341.01L363.35 341.01L356.05 328.41Z"/>
<path d="M394.5 340.69L409.1 340.69L401.8 328.09Z"/>
<path d="M440.25 340.44L454.85 340.44L447.55 327.84Z"/>
<path d="M486 340.44L500.6 340.44L493.3 327.84Z"/>
<path d="M131.9 113.88L133.45 118.65L138.46 118.65L134.41 121.6L135.96 126.36L131.9 123.42L127.84 126.36L129.39 121.6L125.34 118.65L130.35 118.65Z"/>
<path d="M177.65 174.56L179.2 179.33L184.21 179.33L180.16 182.28L181.71 187.05L177.65 184.1L173.59 187.05L175.14 182.28L171.09 179.33L176.1 179.33Z"/>
<path d="M223.4 239L224.95 243.76L229.96 243.76L225.91 246.71L227.46 251.48L223.4 248.53L219.34 251.48L220.89 246.71L216.84 243.76L221.85 243.76Z"/>
<path d="M269.15 301.96L270.7 306.72L275.71 306.72L271.66 309.67L273.21 314.44L269.15 311.49L265.09 314.44L266.64 309.67L262.59 306.72L267.6 306.72Z"/>
<path d="M314.9 328L316.45 332.76L321.46 332.76L317.41 335.71L318.96 340.48L314.9 337.53L310.84 340.48L312.39 335.71L308.34 332.76L313.35 332.76Z"/>
<path d="M360.65 329.26L362.2 334.02L367.21 334.02L363.16 336.97L364.71 341.74L360.65 338.79L356.59 341.74L358.14 336.97L354.09 334.02L359.1 334.02Z"/>
<path d="M406.4 329.31L407.95 334.08L412.96 334.08L408.91 337.03L410.46 341.79L406.4 338.85L402.34 341.79L403.89 337.03L399.84 334.08L404.85 334.08Z"/>
<path d="M452.15 329.35L453.7 334.11L458.71 334.11L454.66 337.06L456.21 341.83L452.15 338.88L448.09 341.83L449.64 337.06L445.59 334.11L450.6 334.11Z"/>
<path d="M497.9 329.06L499.45 333.83L504.46 333.83L500.41 336.77L501.96 341.54L497.9 338.59L493.84 341.54L495.39 336.77L491.34 333.83L496.35 333.83Z"/>
<path d="M136.5 121L138.58 124.6L142.74 124.6L140.66 128.2L142.74 131.8L138.58 131.8L136.5 135.4L134.42 131.8L130.26 131.8L132.34 128.2L130.26 124.6L134.42 124.6Z"/>
<path d="M182.25 173.15L184.33 176.75L188.49 176.75L186.41 180.35L188.49 183.95L184.33 183.95L182.25 187.55L180.17 183.95L176.01 183.95L178.09 180.35L176.01 176.75L180.17 176.75Z"/>
<path d="M228 228.71L230.08 232.31L234.24 232.31L232.16 235.91L234.24 239.51L230.08 239.51L228 243.11L225.92 239.51L221.76 239.51L223.84 235.91L221.76 232.31L225.92 232.31Z"/>
<path d="M273.75 283.77L275.83 287.37L279.99 287.37L277.91 290.97L279.99 294.57L275.83 294.57L273.75 298.17L271.67 294.57L267.51 294.57L269.59 290.97L267.51 287.37L271.67 287.37Z"/>
<path d="M319.5 315.05L321.58 318.65L325.74 318.65L323.66 322.25L325.74 325.85L321.58 325.85L319.5 329.45L317.42 325.85L313.26 325.85L315.34 322.25L313.26 318.65L317.42 318.65Z"/>
<path d="M365.25 324.77L367.33 328.37L371.49 328.37L369.41 331.97L371.49 335.57L367.33 335.57L365.25 339.17L363.17 335.57L359.01 335.57L361.09 331.97L359.01 328.37L363.17 328.37Z"/>
<path d="M411 328.1L413.08 331.7L417.24 331.7L415.16 335.3L417.24 338.9L413.08 338.9L411 342.5L408.92 338.9L404.76 338.9L406.84 335.3L404.76 331.7L408.92 331.7Z"/>
<path d="M456.75 328.65L458.83 332.25L462.99 332.25L460.91 335.85L462.99 339.45L458.83 339.45L456.75 343.05L454.67 339.45L450.51 339.45L452.59 335.85L450.51 332.25L454.67 332.25Z"/>
</g>
<g fill="none" stroke="#000" stroke-width="2">
<rect x="72.1" y="31" width="429.9" height="339"/>
<path d="M253.2 370V365.5M253.2 31V35.5M434.25 370V365.5M434.25 31V35.5M72.1 61.7H76.6M502 61.7H497.5M72.1 125.55H76.6M502 125.55H497.5M72.1 106.33H74.4M502 106.33H499.7M72.1 95.09H74.4M502 95.09H499.7M72.1 87.11H74.4M502 87.11H499.7M72.1 80.92H74.4M502 80.92H499.7M72.1 75.87H74.4M502 75.87H499.7M72.1 71.59H74.4M502 71.59H499.7M72.1 67.89H74.4M502 67.89H499.7M72.1 64.62H74.4M502 64.62H499.7M72.1 189.4H76.6M502 189.4H497.5M72.1 170.18H74.4M502 170.18H499.7M72.1 158.94H74.4M502 158.94H499.7M72.1 150.96H74.4M502 150.96H499.7M72.1 144.77H74.4M502 144.77H499.7M72.1 139.72H74.4M502 139.72H499.7M72.1 135.44H74.4M502 135.44H499.7M72.1 131.74H74.4M502 131.74H499.7M72.1 128.47H74.4M502 128.47H499.7M72.1 253.25H76.6M502 253.25H497.5M72.1 234.03H74.4M502 234.03H499.7M72.1 222.79H74.4M502 222.79H499.7M72.1 214.81H74.4M502 214.81H499.7M72.1 208.62H74.4M502 208.62H499.7M72.1 203.57H74.4M502 203.57H499.7M72.1 199.29H74.4M502 199.29H499.7M72.1 195.59H74.4M502 195.59H499.7M72.1 192.32H74.4M502 192.32H499.7M72.1 317.1H76.6M502 317.1H497.5M72.1 297.88H74.4M502 297.88H499.7M72.1 286.64H74.4M502 286.64H499.7M72.1 278.66H74.4M502 278.66H499.7M72.1 272.47H74.4M502 272.47H499.7M72.1 267.42H74.4M502 267.42H499.7M72.1 263.14H74.4M502 263.14H499.7M72.1 259.44H74.4M502 259.44H499.7M72.1 256.17H74.4M502 256.17H499.7M72.1 361.73H74.4M502 361.73H499.7M72.1 350.49H74.4M502 350.49H499.7M72.1 342.51H74.4M502 342.51H499.7M72.1 336.32H74.4M502 336.32H499.7M72.1 331.27H74.4M502 331.27H499.7M72.1 326.99H74.4M502 326.99H499.7M72.1 323.29H74.4M502 323.29H499.7M72.1 320.02H74.4M502 320.02H499.7"/>
</g>
<text transform="translate(72.15 385.8) scale(1 1)" font-size="13.5" text-anchor="middle">0</text>
<text transform="translate(253.2 385.8) scale(1 1)" font-size="13.5" text-anchor="middle">1000</text>
<text transform="translate(434.25 385.8) scale(1 1)" font-size="13.5" text-anchor="middle">2000</text>
<text transform="translate(43.1 67) scale(1 1)" font-size="14.4">10</text>
<text transform="translate(58 58.8) scale(1 1.1)" font-size="9.2">0</text>
<text transform="translate(43.1 130.85) scale(1 1)" font-size="14.4">10</text>
<text transform="translate(57.9 122.65) scale(1 1.1)" font-size="9.2">−1</text>
<text transform="translate(43.1 194.7) scale(1 1)" font-size="14.4">10</text>
<text transform="translate(57.9 186.5) scale(1 1.1)" font-size="9.2">−2</text>
<text transform="translate(43.1 258.55) scale(1 1)" font-size="14.4">10</text>
<text transform="translate(57.9 250.35) scale(1 1.1)" font-size="9.2">−3</text>
<text transform="translate(43.1 322.4) scale(1 1)" font-size="14.4">10</text>
<text transform="translate(57.9 314.2) scale(1 1.1)" font-size="9.2">−4</text>
<text transform="translate(287.6 407.2) scale(1 1.09)" font-size="20.9" text-anchor="middle">Iterations</text>
<text transform="translate(33.1 200.5) rotate(-90) scale(1 1.1)" font-size="20.8" text-anchor="middle">MSD</text>
<rect x="351" y="37.6" width="144.5" height="194.9" fill="#fff" stroke="#000" stroke-width="2"/>
<g fill="none" stroke="#000" stroke-width="1.5">
<path d="M359 47.9H399.3"/>
<path d="M359 64.2H399.3"/>
<path d="M359 80.7H399.3"/>
<path d="M359 97.2H399.3"/>
<path d="M359 113.7H399.3"/>
<path d="M359 132.6H399.3"/>
<path d="M359 154.4H399.3"/>
<path d="M359 175.9H399.3"/>
<path d="M359 198H399.3"/>
<path d="M359 219.6H399.3"/>
</g>
<g fill="none" stroke="#000" stroke-width="1.4">
<circle cx="379" cy="47.9" r="6.4"/>
<path d="M379 57.8V70.6M372.6 64.2H385.4M374.4 59.6L383.6 68.8M374.4 68.8L383.6 59.6"/>
<path d="M374.1 75.8L383.9 85.6M374.1 85.6L383.9 75.8"/>
<path d="M379 90.9V103.5M372.7 97.2H385.3"/>
<rect x="374.05" y="108.75" width="9.9" height="9.9"/>
<path d="M379 124.1L385.2 132.6L379 141.1L372.8 132.6Z"/>
<path d="M371.7 150.1L386.3 150.1L379 162.7Z"/>
<path d="M371.7 180.2L386.3 180.2L379 167.6Z"/>
<path d="M379 191.1L380.55 195.87L385.56 195.87L381.51 198.81L383.06 203.58L379 200.64L374.94 203.58L376.49 198.81L372.44 195.87L377.45 195.87Z"/>
<path d="M379 212.4L381.08 216L385.24 216L383.16 219.6L385.24 223.2L381.08 223.2L379 226.8L376.92 223.2L372.76 223.2L374.84 219.6L372.76 216L376.92 216Z"/>
</g>
<text transform="translate(403.6 52.65) scale(1 1.09)" font-size="13.3">LMS,8 LC</text>
<text transform="translate(403.6 68.95) scale(1 1.09)" font-size="13.3">LMS,16 LC</text>
<text transform="translate(403.6 85.45) scale(1 1.09)" font-size="13.3">LMS,32 LC</text>
<text transform="translate(403.6 101.95) scale(1 1.09)" font-size="13.3">LMS,64 LC</text>
<text transform="translate(403.6 118.45) scale(1 1.09)" font-size="13.3">LMS,128 LC</text>
<text transform="translate(403.4 134.7) scale(1 1.09)" font-size="13.3" font-style="italic">l</text>
<text transform="translate(406.3 141.1) scale(1 1.09)" font-size="10.2">0</text>
<text transform="translate(412 134.7) scale(1 1.09)" font-size="13.3">–LMS,8 LC</text>
<text transform="translate(403.4 156.5) scale(1 1.09)" font-size="13.3" font-style="italic">l</text>
<text transform="translate(406.3 162.9) scale(1 1.09)" font-size="10.2">0</text>
<text transform="translate(412 156.5) scale(1 1.09)" font-size="13.3">–LMS,16 LC</text>
<text transform="translate(403.4 178) scale(1 1.09)" font-size="13.3" font-style="italic">l</text>
<text transform="translate(406.3 184.4) scale(1 1.09)" font-size="10.2">0</text>
<text transform="translate(412 178) scale(1 1.09)" font-size="13.3">–LMS,32 LC</text>
<text transform="translate(403.4 200.1) scale(1 1.09)" font-size="13.3" font-style="italic">l</text>
<text transform="translate(406.3 206.5) scale(1 1.09)" font-size="10.2">0</text>
<text transform="translate(412 200.1) scale(1 1.09)" font-size="13.3">–LMS,64 LC</text>
<text transform="translate(403.4 221.7) scale(1 1.09)" font-size="13.3" font-style="italic">l</text>
<text transform="translate(406.3 228.1) scale(1 1.09)" font-size="10.2">0</text>
<text transform="translate(412 221.7) scale(1 1.09)" font-size="13.3">–LMS,128 LC</text>
</svg></body></html>
